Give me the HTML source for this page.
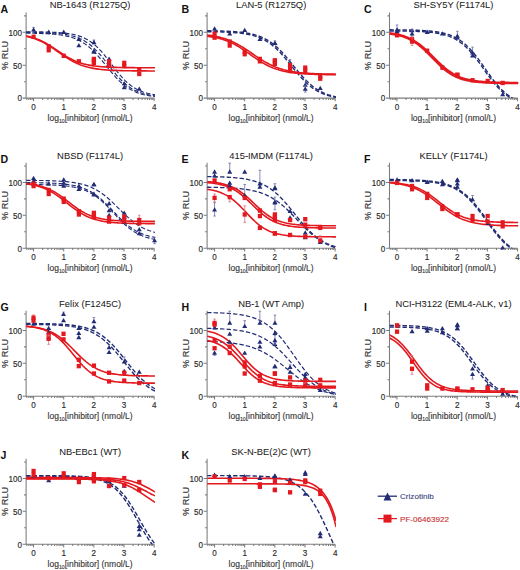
<!DOCTYPE html>
<html><head><meta charset="utf-8"><style>
html,body{margin:0;padding:0;background:#fff;width:520px;height:570px;overflow:hidden}
svg{display:block}
text{font-family:"Liberation Sans", sans-serif}
.tk{font-size:8.1px;fill:#2a2a2a;stroke:#2a2a2a;stroke-width:0.15px}
.al{font-size:8.3px;fill:#333;stroke:#333;stroke-width:0.12px}
.ti{font-size:9.4px;fill:#222;stroke:#222;stroke-width:0.05px}
.lt{font-size:10.6px;font-weight:bold;fill:#111}
.lg{font-size:8.1px}
.bl{fill:none;stroke:#222c74;stroke-width:1.4;stroke-dasharray:4.4 2.1}
.rl{fill:none;stroke:#e3191f;stroke-width:1.6}
.be{fill:none;stroke:#6b70a6;stroke-width:0.8}
.re{fill:none;stroke:#e0707a;stroke-width:0.8}
</style></head><body>
<svg width="520" height="570" viewBox="0 0 520 570">
<path d="M26.1 12.56V98.1H154.15M26.1 98.1h-3.4M26.1 81.65h-2M26.1 65.2h-3.4M26.1 48.75h-2M26.1 32.3h-3.4M26.1 15.85h-2M33.55 98.1v3.2M63.7 98.1v3.2M93.85 98.1v3.2M124 98.1v3.2M154.15 98.1v3.2M26.86 98.1v1.8M28.88 98.1v1.8M30.63 98.1v1.8M32.17 98.1v1.8M42.63 98.1v1.8M47.94 98.1v1.8M51.7 98.1v1.8M54.62 98.1v1.8M57.01 98.1v1.8M59.03 98.1v1.8M60.78 98.1v1.8M62.32 98.1v1.8M72.78 98.1v1.8M78.09 98.1v1.8M81.85 98.1v1.8M84.77 98.1v1.8M87.16 98.1v1.8M89.18 98.1v1.8M90.93 98.1v1.8M92.47 98.1v1.8M102.93 98.1v1.8M108.24 98.1v1.8M112 98.1v1.8M114.92 98.1v1.8M117.31 98.1v1.8M119.33 98.1v1.8M121.08 98.1v1.8M122.62 98.1v1.8M133.08 98.1v1.8M138.39 98.1v1.8M142.15 98.1v1.8M145.07 98.1v1.8M147.46 98.1v1.8M149.48 98.1v1.8M151.23 98.1v1.8M152.77 98.1v1.8" stroke="#7c7c7c" stroke-width="1.05" fill="none"/>
<text transform="translate(21.9 101.4) scale(1 1.12)" text-anchor="end" class="tk">0</text>
<text transform="translate(21.9 68.5) scale(1 1.12)" text-anchor="end" class="tk">50</text>
<text transform="translate(21.9 35.6) scale(1 1.12)" text-anchor="end" class="tk">100</text>
<text transform="translate(33.55 110) scale(1 1.12)" text-anchor="middle" class="tk">0</text>
<text transform="translate(63.7 110) scale(1 1.12)" text-anchor="middle" class="tk">1</text>
<text transform="translate(93.85 110) scale(1 1.12)" text-anchor="middle" class="tk">2</text>
<text transform="translate(124 110) scale(1 1.12)" text-anchor="middle" class="tk">3</text>
<text transform="translate(154.15 110) scale(1 1.12)" text-anchor="middle" class="tk">4</text>
<text x="90.12" y="120.8" text-anchor="middle" class="al" style="font-size:8.5px">log<tspan font-size="5.2" dy="2.2">10</tspan><tspan dy="-2.2">[inhibitor] (nmol/L)</tspan></text>
<text transform="translate(7.5 55.33) scale(1 1.1) rotate(-90)" text-anchor="middle" class="al" style="font-size:8.4px">% RLU</text>
<text x="90.12" y="8.46" text-anchor="middle" class="ti">NB-1643 (R1275Q)</text>
<text x="0.5" y="13.16" class="lt">A</text>
<clipPath id="cA"><rect x="26.1" y="-7.44" width="128.85" height="105.54"/></clipPath>
<g clip-path="url(#cA)"><path d="M26.1 31.77 27.6 31.78 29.1 31.79 30.6 31.8 32.1 31.81 33.6 31.83 35.1 31.84 36.6 31.86 38.1 31.87 39.6 31.89 41.1 31.92 42.6 31.94 44.1 31.97 45.6 32.01 47.1 32.05 48.6 32.09 50.1 32.14 51.6 32.19 53.1 32.25 54.6 32.32 56.1 32.4 57.6 32.49 59.1 32.59 60.6 32.71 62.1 32.83 63.6 32.98 65.1 33.14 66.6 33.32 68.1 33.52 69.6 33.75 71.1 34.01 72.6 34.3 74.1 34.62 75.6 34.98 77.1 35.38 78.6 35.83 80.1 36.33 81.6 36.89 83.1 37.51 84.6 38.19 86.1 38.94 87.6 39.77 89.1 40.68 90.6 41.67 92.1 42.75 93.6 43.92 95.1 45.19 96.6 46.55 98.1 48 99.6 49.54 101.1 51.18 102.6 52.89 104.1 54.68 105.6 56.53 107.1 58.44 108.6 60.38 110.1 62.36 111.6 64.35 113.1 66.33 114.6 68.3 116.1 70.24 117.6 72.13 119.1 73.97 120.6 75.74 122.1 77.43 123.6 79.04 125.1 80.55 126.6 81.98 128.1 83.31 129.6 84.55 131.1 85.7 132.6 86.75 134.1 87.72 135.6 88.61 137.1 89.41 138.6 90.15 140.1 90.81 141.6 91.41 143.1 91.95 144.6 92.43 146.1 92.87 147.6 93.26 149.1 93.61 150.6 93.92 152.1 94.2 153.6 94.45 155.1 94.67" class="bl" style="stroke-width:1.15"/><path d="M26.1 32.41 27.6 32.42 29.1 32.44 30.6 32.45 32.1 32.47 33.6 32.49 35.1 32.52 36.6 32.54 38.1 32.57 39.6 32.6 41.1 32.64 42.6 32.68 44.1 32.72 45.6 32.77 47.1 32.83 48.6 32.9 50.1 32.97 51.6 33.05 53.1 33.14 54.6 33.25 56.1 33.36 57.6 33.49 59.1 33.63 60.6 33.8 62.1 33.98 63.6 34.18 65.1 34.41 66.6 34.66 68.1 34.94 69.6 35.26 71.1 35.61 72.6 36 74.1 36.43 75.6 36.91 77.1 37.44 78.6 38.03 80.1 38.67 81.6 39.38 83.1 40.16 84.6 41.02 86.1 41.95 87.6 42.96 89.1 44.05 90.6 45.23 92.1 46.5 93.6 47.85 95.1 49.29 96.6 50.82 98.1 52.42 99.6 54.1 101.1 55.84 102.6 57.64 104.1 59.49 105.6 61.38 107.1 63.29 108.6 65.22 110.1 67.14 111.6 69.04 113.1 70.92 114.6 72.75 116.1 74.54 117.6 76.26 119.1 77.91 120.6 79.49 122.1 80.98 123.6 82.39 125.1 83.72 126.6 84.96 128.1 86.11 129.6 87.17 131.1 88.15 132.6 89.06 134.1 89.88 135.6 90.64 137.1 91.33 138.6 91.95 140.1 92.52 141.6 93.03 143.1 93.5 144.6 93.91 146.1 94.29 147.6 94.63 149.1 94.93 150.6 95.2 152.1 95.45 153.6 95.67 155.1 95.86" class="bl" style="stroke-width:1.15"/><path d="M26.1 33.2 27.6 33.21 29.1 33.23 30.6 33.25 32.1 33.28 33.6 33.31 35.1 33.34 36.6 33.37 38.1 33.41 39.6 33.45 41.1 33.5 42.6 33.56 44.1 33.62 45.6 33.69 47.1 33.76 48.6 33.85 50.1 33.94 51.6 34.05 53.1 34.17 54.6 34.3 56.1 34.45 57.6 34.61 59.1 34.8 60.6 35.01 62.1 35.24 63.6 35.49 65.1 35.78 66.6 36.09 68.1 36.44 69.6 36.83 71.1 37.26 72.6 37.73 74.1 38.26 75.6 38.83 77.1 39.47 78.6 40.16 80.1 40.92 81.6 41.75 83.1 42.66 84.6 43.63 86.1 44.69 87.6 45.83 89.1 47.05 90.6 48.35 92.1 49.73 93.6 51.2 95.1 52.74 96.6 54.35 98.1 56.02 99.6 57.76 101.1 59.54 102.6 61.36 104.1 63.21 105.6 65.07 107.1 66.93 108.6 68.79 110.1 70.63 111.6 72.43 113.1 74.19 114.6 75.9 116.1 77.55 117.6 79.13 119.1 80.63 120.6 82.06 122.1 83.41 123.6 84.67 125.1 85.86 126.6 86.96 128.1 87.98 129.6 88.92 131.1 89.79 132.6 90.59 134.1 91.32 135.6 91.99 137.1 92.59 138.6 93.15 140.1 93.65 141.6 94.1 143.1 94.51 144.6 94.88 146.1 95.22 147.6 95.52 149.1 95.79 150.6 96.03 152.1 96.25 153.6 96.45 155.1 96.62" class="bl" style="stroke-width:1.15"/><path d="M26.1 35.94 27.6 36.25 29.1 36.6 30.6 36.98 32.1 37.4 33.6 37.85 35.1 38.35 36.6 38.89 38.1 39.47 39.6 40.1 41.1 40.77 42.6 41.49 44.1 42.26 45.6 43.07 47.1 43.92 48.6 44.82 50.1 45.74 51.6 46.7 53.1 47.68 54.6 48.68 56.1 49.7 57.6 50.71 59.1 51.73 60.6 52.74 62.1 53.73 63.6 54.7 65.1 55.65 66.6 56.56 68.1 57.43 69.6 58.26 71.1 59.05 72.6 59.8 74.1 60.5 75.6 61.15 77.1 61.76 78.6 62.32 80.1 62.84 81.6 63.32 83.1 63.75 84.6 64.15 86.1 64.51 87.6 64.84 89.1 65.14 90.6 65.41 92.1 65.66 93.6 65.88 95.1 66.08 96.6 66.26 98.1 66.42 99.6 66.56 101.1 66.69 102.6 66.8 104.1 66.91 105.6 67 107.1 67.08 108.6 67.15 110.1 67.22 111.6 67.28 113.1 67.33 114.6 67.38 116.1 67.42 117.6 67.45 119.1 67.49 120.6 67.52 122.1 67.54 123.6 67.57 125.1 67.59 126.6 67.6 128.1 67.62 129.6 67.64 131.1 67.65 132.6 67.66 134.1 67.67 135.6 67.68 137.1 67.69 138.6 67.69 140.1 67.7 141.6 67.71 143.1 67.71 144.6 67.72 146.1 67.72 147.6 67.72 149.1 67.73 150.6 67.73 152.1 67.73 153.6 67.73 155.1 67.74" class="rl"/><path d="M26.1 36.27 27.6 36.61 29.1 36.99 30.6 37.39 32.1 37.83 33.6 38.32 35.1 38.84 36.6 39.4 38.1 40.01 39.6 40.66 41.1 41.35 42.6 42.09 44.1 42.88 45.6 43.71 47.1 44.58 48.6 45.49 50.1 46.43 51.6 47.41 53.1 48.41 54.6 49.43 56.1 50.47 57.6 51.52 59.1 52.58 60.6 53.63 62.1 54.67 63.6 55.69 65.1 56.69 66.6 57.67 68.1 58.61 69.6 59.52 71.1 60.39 72.6 61.22 74.1 62 75.6 62.74 77.1 63.44 78.6 64.08 80.1 64.69 81.6 65.25 83.1 65.77 84.6 66.25 86.1 66.69 87.6 67.1 89.1 67.47 90.6 67.81 92.1 68.12 93.6 68.4 95.1 68.65 96.6 68.88 98.1 69.09 99.6 69.28 101.1 69.45 102.6 69.61 104.1 69.75 105.6 69.87 107.1 69.99 108.6 70.09 110.1 70.18 111.6 70.26 113.1 70.34 114.6 70.4 116.1 70.46 117.6 70.52 119.1 70.57 120.6 70.61 122.1 70.65 123.6 70.68 125.1 70.71 126.6 70.74 128.1 70.77 129.6 70.79 131.1 70.81 132.6 70.83 134.1 70.84 135.6 70.86 137.1 70.87 138.6 70.88 140.1 70.89 141.6 70.9 143.1 70.91 144.6 70.92 146.1 70.92 147.6 70.93 149.1 70.94 150.6 70.94 152.1 70.94 153.6 70.95 155.1 70.95" class="rl"/></g>
<path d="M33.57 27.37V33.68M32.27 27.37h2.6M32.27 33.68h2.6" class="be"/><path d="M31.07 31.54L33.57 27.24L36.07 31.54Z" fill="#222c74"/><path d="M46.22 33.91L48.72 29.61L51.22 33.91Z" fill="#222c74"/><path d="M61.22 33.91L63.72 29.61L66.22 33.91Z" fill="#222c74"/><path d="M76.38 41.01L78.88 36.71L81.38 41.01Z" fill="#222c74"/><path d="M76.38 47.33L78.88 43.03L81.38 47.33Z" fill="#222c74"/><path d="M91.38 52.85L93.88 48.55L96.38 52.85Z" fill="#222c74"/><path d="M93.93 40V43.95M92.63 40h2.6M92.63 43.95h2.6" class="be"/><path d="M91.43 44.17L93.93 39.87L96.43 44.17Z" fill="#222c74"/><path d="M91.43 53.64L93.93 49.34L96.43 53.64Z" fill="#222c74"/><path d="M106.59 60.75L109.09 56.45L111.59 60.75Z" fill="#222c74"/><path d="M106.59 66.27L109.09 61.97L111.59 66.27Z" fill="#222c74"/><path d="M121.75 85.22L124.25 80.92L126.75 85.22Z" fill="#222c74"/><path d="M121.75 89.17L124.25 84.87L126.75 89.17Z" fill="#222c74"/><path d="M136.75 90.75L139.25 86.45L141.75 90.75Z" fill="#222c74"/><rect x="31.47" y="34.64" width="4.2" height="4.4" fill="#e3191f"/><rect x="46.62" y="44.12" width="4.2" height="4.4" fill="#e3191f"/><rect x="46.62" y="48.06" width="4.2" height="4.4" fill="#e3191f"/><rect x="61.62" y="53.59" width="4.2" height="4.4" fill="#e3191f"/><rect x="76.78" y="59.12" width="4.2" height="4.4" fill="#e3191f"/><rect x="91.78" y="57.54" width="4.2" height="4.4" fill="#e3191f"/><rect x="91.78" y="60.69" width="4.2" height="4.4" fill="#e3191f"/><rect x="91.83" y="56.75" width="4.2" height="4.4" fill="#e3191f"/><rect x="91.83" y="59.91" width="4.2" height="4.4" fill="#e3191f"/><rect x="106.99" y="59.12" width="4.2" height="4.4" fill="#e3191f"/><rect x="106.99" y="63.06" width="4.2" height="4.4" fill="#e3191f"/><rect x="122.15" y="60.69" width="4.2" height="4.4" fill="#e3191f"/><rect x="122.15" y="63.85" width="4.2" height="4.4" fill="#e3191f"/><rect x="137.15" y="67.01" width="4.2" height="4.4" fill="#e3191f"/><rect x="137.15" y="71.75" width="4.2" height="4.4" fill="#e3191f"/>
<path d="M207.1 12.56V98.1H335.15M207.1 98.1h-3.4M207.1 81.65h-2M207.1 65.2h-3.4M207.1 48.75h-2M207.1 32.3h-3.4M207.1 15.85h-2M214.55 98.1v3.2M244.7 98.1v3.2M274.85 98.1v3.2M305 98.1v3.2M335.15 98.1v3.2M207.86 98.1v1.8M209.88 98.1v1.8M211.63 98.1v1.8M213.17 98.1v1.8M223.63 98.1v1.8M228.94 98.1v1.8M232.7 98.1v1.8M235.62 98.1v1.8M238.01 98.1v1.8M240.03 98.1v1.8M241.78 98.1v1.8M243.32 98.1v1.8M253.78 98.1v1.8M259.09 98.1v1.8M262.85 98.1v1.8M265.77 98.1v1.8M268.16 98.1v1.8M270.18 98.1v1.8M271.93 98.1v1.8M273.47 98.1v1.8M283.93 98.1v1.8M289.24 98.1v1.8M293 98.1v1.8M295.92 98.1v1.8M298.31 98.1v1.8M300.33 98.1v1.8M302.08 98.1v1.8M303.62 98.1v1.8M314.08 98.1v1.8M319.39 98.1v1.8M323.15 98.1v1.8M326.07 98.1v1.8M328.46 98.1v1.8M330.48 98.1v1.8M332.23 98.1v1.8M333.77 98.1v1.8" stroke="#7c7c7c" stroke-width="1.05" fill="none"/>
<text transform="translate(202.9 101.4) scale(1 1.12)" text-anchor="end" class="tk">0</text>
<text transform="translate(202.9 68.5) scale(1 1.12)" text-anchor="end" class="tk">50</text>
<text transform="translate(202.9 35.6) scale(1 1.12)" text-anchor="end" class="tk">100</text>
<text transform="translate(214.55 110) scale(1 1.12)" text-anchor="middle" class="tk">0</text>
<text transform="translate(244.7 110) scale(1 1.12)" text-anchor="middle" class="tk">1</text>
<text transform="translate(274.85 110) scale(1 1.12)" text-anchor="middle" class="tk">2</text>
<text transform="translate(305 110) scale(1 1.12)" text-anchor="middle" class="tk">3</text>
<text transform="translate(335.15 110) scale(1 1.12)" text-anchor="middle" class="tk">4</text>
<text x="271.12" y="120.8" text-anchor="middle" class="al" style="font-size:8.5px">log<tspan font-size="5.2" dy="2.2">10</tspan><tspan dy="-2.2">[inhibitor] (nmol/L)</tspan></text>
<text transform="translate(188.5 55.33) scale(1 1.1) rotate(-90)" text-anchor="middle" class="al" style="font-size:8.4px">% RLU</text>
<text x="271.12" y="8.46" text-anchor="middle" class="ti">LAN-5 (R1275Q)</text>
<text x="181.5" y="13.16" class="lt">B</text>
<clipPath id="cB"><rect x="207.1" y="-7.44" width="128.85" height="105.54"/></clipPath>
<g clip-path="url(#cB)"><path d="M207.1 30.75 208.6 30.77 210.1 30.79 211.6 30.81 213.1 30.83 214.6 30.86 216.1 30.89 217.6 30.92 219.1 30.95 220.6 30.99 222.1 31.03 223.6 31.08 225.1 31.13 226.6 31.19 228.1 31.26 229.6 31.33 231.1 31.41 232.6 31.5 234.1 31.61 235.6 31.72 237.1 31.84 238.6 31.98 240.1 32.13 241.6 32.3 243.1 32.48 244.6 32.69 246.1 32.92 247.6 33.17 249.1 33.45 250.6 33.76 252.1 34.1 253.6 34.48 255.1 34.89 256.6 35.34 258.1 35.84 259.6 36.38 261.1 36.98 262.6 37.63 264.1 38.34 265.6 39.11 267.1 39.95 268.6 40.85 270.1 41.83 271.6 42.87 273.1 44 274.6 45.2 276.1 46.48 277.6 47.83 279.1 49.26 280.6 50.77 282.1 52.34 283.6 53.97 285.1 55.67 286.6 57.41 288.1 59.2 289.6 61.02 291.1 62.87 292.6 64.73 294.1 66.59 295.6 68.44 297.1 70.28 298.6 72.08 300.1 73.85 301.6 75.57 303.1 77.24 304.6 78.84 306.1 80.38 307.6 81.85 309.1 83.25 310.6 84.56 312.1 85.8 313.6 86.97 315.1 88.05 316.6 89.07 318.1 90.01 319.6 90.88 321.1 91.68 322.6 92.42 324.1 93.1 325.6 93.73 327.1 94.3 328.6 94.82 330.1 95.29 331.6 95.73 333.1 96.12 334.6 96.48 336.1 96.8" class="bl"/><path d="M207.1 31.66 208.6 31.68 210.1 31.7 211.6 31.72 213.1 31.74 214.6 31.77 216.1 31.8 217.6 31.83 219.1 31.87 220.6 31.91 222.1 31.95 223.6 32.01 225.1 32.06 226.6 32.12 228.1 32.19 229.6 32.27 231.1 32.36 232.6 32.45 234.1 32.56 235.6 32.68 237.1 32.81 238.6 32.96 240.1 33.12 241.6 33.3 243.1 33.5 244.6 33.72 246.1 33.96 247.6 34.24 249.1 34.54 250.6 34.87 252.1 35.23 253.6 35.64 255.1 36.08 256.6 36.57 258.1 37.11 259.6 37.7 261.1 38.34 262.6 39.04 264.1 39.8 265.6 40.63 267.1 41.53 268.6 42.5 270.1 43.55 271.6 44.67 273.1 45.87 274.6 47.15 276.1 48.51 277.6 49.94 279.1 51.45 280.6 53.03 282.1 54.67 283.6 56.38 285.1 58.13 286.6 59.93 288.1 61.76 289.6 63.61 291.1 65.48 292.6 67.35 294.1 69.21 295.6 71.04 297.1 72.85 298.6 74.61 300.1 76.33 301.6 77.99 303.1 79.58 304.6 81.11 306.1 82.56 307.6 83.94 309.1 85.24 310.6 86.46 312.1 87.6 313.6 88.66 315.1 89.65 316.6 90.57 318.1 91.42 319.6 92.19 321.1 92.91 322.6 93.57 324.1 94.17 325.6 94.72 327.1 95.22 328.6 95.67 330.1 96.09 331.6 96.46 333.1 96.8 334.6 97.11 336.1 97.39" class="bl"/><path d="M207.1 34.98 208.6 35.17 210.1 35.38 211.6 35.62 213.1 35.87 214.6 36.15 216.1 36.45 217.6 36.77 219.1 37.13 220.6 37.51 222.1 37.92 223.6 38.37 225.1 38.85 226.6 39.37 228.1 39.92 229.6 40.51 231.1 41.14 232.6 41.81 234.1 42.51 235.6 43.26 237.1 44.05 238.6 44.87 240.1 45.72 241.6 46.61 243.1 47.54 244.6 48.48 246.1 49.46 247.6 50.45 249.1 51.46 250.6 52.48 252.1 53.5 253.6 54.53 255.1 55.55 256.6 56.56 258.1 57.56 259.6 58.54 261.1 59.5 262.6 60.43 264.1 61.33 265.6 62.2 267.1 63.03 268.6 63.83 270.1 64.59 271.6 65.31 273.1 65.99 274.6 66.63 276.1 67.24 277.6 67.8 279.1 68.33 280.6 68.82 282.1 69.28 283.6 69.71 285.1 70.1 286.6 70.46 288.1 70.8 289.6 71.11 291.1 71.39 292.6 71.65 294.1 71.89 295.6 72.11 297.1 72.31 298.6 72.5 300.1 72.67 301.6 72.82 303.1 72.96 304.6 73.09 306.1 73.2 307.6 73.31 309.1 73.4 310.6 73.49 312.1 73.57 313.6 73.64 315.1 73.71 316.6 73.77 318.1 73.82 319.6 73.87 321.1 73.92 322.6 73.96 324.1 73.99 325.6 74.03 327.1 74.06 328.6 74.08 330.1 74.11 331.6 74.13 333.1 74.15 334.6 74.17 336.1 74.19" class="rl"/><path d="M207.1 36.19 208.6 36.38 210.1 36.6 211.6 36.84 213.1 37.09 214.6 37.38 216.1 37.69 217.6 38.03 219.1 38.4 220.6 38.8 222.1 39.24 223.6 39.71 225.1 40.22 226.6 40.77 228.1 41.36 229.6 41.99 231.1 42.66 232.6 43.38 234.1 44.14 235.6 44.95 237.1 45.79 238.6 46.67 240.1 47.59 241.6 48.55 243.1 49.53 244.6 50.54 246.1 51.57 247.6 52.62 249.1 53.68 250.6 54.74 252.1 55.81 253.6 56.86 255.1 57.9 256.6 58.93 258.1 59.93 259.6 60.91 261.1 61.85 262.6 62.76 264.1 63.63 265.6 64.46 267.1 65.24 268.6 65.99 270.1 66.69 271.6 67.35 273.1 67.97 274.6 68.54 276.1 69.08 277.6 69.58 279.1 70.04 280.6 70.46 282.1 70.85 283.6 71.21 285.1 71.54 286.6 71.84 288.1 72.11 289.6 72.36 291.1 72.59 292.6 72.8 294.1 72.99 295.6 73.16 297.1 73.32 298.6 73.46 300.1 73.59 301.6 73.7 303.1 73.81 304.6 73.91 306.1 73.99 307.6 74.07 309.1 74.14 310.6 74.2 312.1 74.26 313.6 74.31 315.1 74.36 316.6 74.4 318.1 74.44 319.6 74.47 321.1 74.51 322.6 74.53 324.1 74.56 325.6 74.58 327.1 74.6 328.6 74.62 330.1 74.64 331.6 74.65 333.1 74.67 334.6 74.68 336.1 74.69" class="rl"/></g>
<path d="M212.07 30.43L214.57 26.13L217.07 30.43Z" fill="#222c74"/><path d="M227.22 35.48L229.72 31.18L232.22 35.48Z" fill="#222c74"/><path d="M242.22 32.01L244.72 27.71L247.22 32.01Z" fill="#222c74"/><path d="M257.38 41.01L259.88 36.71L262.38 41.01Z" fill="#222c74"/><path d="M272.38 44.96L274.88 40.66L277.38 44.96Z" fill="#222c74"/><path d="M274.93 40.79V43.95M273.63 40.79h2.6M273.63 43.95h2.6" class="be"/><path d="M272.43 44.96L274.93 40.66L277.43 44.96Z" fill="#222c74"/><path d="M290.09 59.74V65.26M288.79 59.74h2.6M288.79 65.26h2.6" class="be"/><path d="M287.59 66.27L290.09 61.97L292.59 66.27Z" fill="#222c74"/><path d="M302.75 86.8L305.25 82.5L307.75 86.8Z" fill="#222c74"/><path d="M305.25 85.79V92.11M303.95 85.79h2.6M303.95 92.11h2.6" class="be"/><path d="M302.75 90.75L305.25 86.45L307.75 90.75Z" fill="#222c74"/><path d="M317.75 89.96L320.25 85.66L322.75 89.96Z" fill="#222c74"/><rect x="212.47" y="31.48" width="4.2" height="4.4" fill="#e3191f"/><rect x="212.47" y="35.43" width="4.2" height="4.4" fill="#e3191f"/><rect x="227.62" y="39.38" width="4.2" height="4.4" fill="#e3191f"/><rect x="227.62" y="43.33" width="4.2" height="4.4" fill="#e3191f"/><rect x="242.62" y="49.64" width="4.2" height="4.4" fill="#e3191f"/><rect x="242.62" y="52.01" width="4.2" height="4.4" fill="#e3191f"/><rect x="257.78" y="56.75" width="4.2" height="4.4" fill="#e3191f"/><rect x="257.78" y="59.12" width="4.2" height="4.4" fill="#e3191f"/><rect x="272.78" y="58.33" width="4.2" height="4.4" fill="#e3191f"/><rect x="272.78" y="61.48" width="4.2" height="4.4" fill="#e3191f"/><rect x="272.83" y="58.33" width="4.2" height="4.4" fill="#e3191f"/><rect x="272.83" y="61.48" width="4.2" height="4.4" fill="#e3191f"/><rect x="287.99" y="63.06" width="4.2" height="4.4" fill="#e3191f"/><rect x="287.99" y="67.01" width="4.2" height="4.4" fill="#e3191f"/><rect x="303.15" y="65.43" width="4.2" height="4.4" fill="#e3191f"/><rect x="303.15" y="68.59" width="4.2" height="4.4" fill="#e3191f"/><rect x="318.15" y="74.12" width="4.2" height="4.4" fill="#e3191f"/><rect x="318.15" y="76.48" width="4.2" height="4.4" fill="#e3191f"/>
<path d="M389.5 12.56V98.1H517.55M389.5 98.1h-3.4M389.5 81.65h-2M389.5 65.2h-3.4M389.5 48.75h-2M389.5 32.3h-3.4M389.5 15.85h-2M396.95 98.1v3.2M427.1 98.1v3.2M457.25 98.1v3.2M487.4 98.1v3.2M517.55 98.1v3.2M390.26 98.1v1.8M392.28 98.1v1.8M394.03 98.1v1.8M395.57 98.1v1.8M406.03 98.1v1.8M411.34 98.1v1.8M415.1 98.1v1.8M418.02 98.1v1.8M420.41 98.1v1.8M422.43 98.1v1.8M424.18 98.1v1.8M425.72 98.1v1.8M436.18 98.1v1.8M441.49 98.1v1.8M445.25 98.1v1.8M448.17 98.1v1.8M450.56 98.1v1.8M452.58 98.1v1.8M454.33 98.1v1.8M455.87 98.1v1.8M466.33 98.1v1.8M471.64 98.1v1.8M475.4 98.1v1.8M478.32 98.1v1.8M480.71 98.1v1.8M482.73 98.1v1.8M484.48 98.1v1.8M486.02 98.1v1.8M496.48 98.1v1.8M501.79 98.1v1.8M505.55 98.1v1.8M508.47 98.1v1.8M510.86 98.1v1.8M512.88 98.1v1.8M514.63 98.1v1.8M516.17 98.1v1.8" stroke="#7c7c7c" stroke-width="1.05" fill="none"/>
<text transform="translate(385.3 101.4) scale(1 1.12)" text-anchor="end" class="tk">0</text>
<text transform="translate(385.3 68.5) scale(1 1.12)" text-anchor="end" class="tk">50</text>
<text transform="translate(385.3 35.6) scale(1 1.12)" text-anchor="end" class="tk">100</text>
<text transform="translate(396.95 110) scale(1 1.12)" text-anchor="middle" class="tk">0</text>
<text transform="translate(427.1 110) scale(1 1.12)" text-anchor="middle" class="tk">1</text>
<text transform="translate(457.25 110) scale(1 1.12)" text-anchor="middle" class="tk">2</text>
<text transform="translate(487.4 110) scale(1 1.12)" text-anchor="middle" class="tk">3</text>
<text transform="translate(517.55 110) scale(1 1.12)" text-anchor="middle" class="tk">4</text>
<text x="453.52" y="120.8" text-anchor="middle" class="al" style="font-size:8.5px">log<tspan font-size="5.2" dy="2.2">10</tspan><tspan dy="-2.2">[inhibitor] (nmol/L)</tspan></text>
<text transform="translate(370.9 55.33) scale(1 1.1) rotate(-90)" text-anchor="middle" class="al" style="font-size:8.4px">% RLU</text>
<text x="453.52" y="8.46" text-anchor="middle" class="ti">SH-SY5Y (F1174L)</text>
<text x="363.9" y="13.16" class="lt">C</text>
<clipPath id="cC"><rect x="389.5" y="-7.44" width="128.85" height="105.54"/></clipPath>
<g clip-path="url(#cC)"><path d="M389.5 29.82 391 29.82 392.5 29.83 394 29.84 395.5 29.85 397 29.86 398.5 29.88 400 29.89 401.5 29.91 403 29.93 404.5 29.95 406 29.97 407.5 30 409 30.03 410.5 30.06 412 30.1 413.5 30.14 415 30.18 416.5 30.23 418 30.29 419.5 30.35 421 30.42 422.5 30.5 424 30.58 425.5 30.68 427 30.79 428.5 30.91 430 31.04 431.5 31.19 433 31.36 434.5 31.54 436 31.75 437.5 31.98 439 32.23 440.5 32.51 442 32.82 443.5 33.17 445 33.55 446.5 33.97 448 34.44 449.5 34.95 451 35.52 452.5 36.14 454 36.82 455.5 37.57 457 38.39 458.5 39.28 460 40.25 461.5 41.3 463 42.44 464.5 43.66 466 44.97 467.5 46.38 469 47.88 470.5 49.46 472 51.14 473.5 52.9 475 54.74 476.5 56.66 478 58.64 479.5 60.68 481 62.76 482.5 64.88 484 67.01 485.5 69.16 487 71.3 488.5 73.42 490 75.52 491.5 77.56 493 79.56 494.5 81.49 496 83.35 497.5 85.13 499 86.83 500.5 88.44 502 89.96 503.5 91.38 505 92.72 506.5 93.96 508 95.12 509.5 96.19 511 97.18 512.5 98.09 514 98.92 515.5 99.69 517 100.38 518.5 101.02" class="bl"/><path d="M389.5 30.94 391 30.94 392.5 30.95 394 30.96 395.5 30.97 397 30.99 398.5 31 400 31.02 401.5 31.04 403 31.06 404.5 31.08 406 31.1 407.5 31.13 409 31.16 410.5 31.2 412 31.23 413.5 31.28 415 31.32 416.5 31.38 418 31.44 419.5 31.51 421 31.58 422.5 31.66 424 31.76 425.5 31.86 427 31.98 428.5 32.11 430 32.25 431.5 32.41 433 32.59 434.5 32.79 436 33.01 437.5 33.25 439 33.52 440.5 33.83 442 34.16 443.5 34.53 445 34.94 446.5 35.39 448 35.89 449.5 36.44 451 37.05 452.5 37.71 454 38.44 455.5 39.24 457 40.11 458.5 41.05 460 42.08 461.5 43.19 463 44.38 464.5 45.67 466 47.05 467.5 48.52 469 50.08 470.5 51.72 472 53.46 473.5 55.27 475 57.15 476.5 59.11 478 61.12 479.5 63.17 481 65.26 482.5 67.38 484 69.5 485.5 71.62 487 73.72 488.5 75.79 490 77.82 491.5 79.79 493 81.71 494.5 83.55 496 85.32 497.5 87 499 88.6 500.5 90.1 502 91.52 503.5 92.84 505 94.08 506.5 95.22 508 96.28 509.5 97.26 511 98.16 512.5 98.99 514 99.74 515.5 100.43 517 101.06 518.5 101.64" class="bl"/><path d="M389.5 33.05 391 33.24 392.5 33.46 394 33.7 395.5 33.97 397 34.26 398.5 34.59 400 34.96 401.5 35.36 403 35.81 404.5 36.3 406 36.85 407.5 37.44 409 38.09 410.5 38.8 412 39.57 413.5 40.41 415 41.31 416.5 42.28 418 43.31 419.5 44.42 421 45.59 422.5 46.82 424 48.12 425.5 49.46 427 50.86 428.5 52.29 430 53.76 431.5 55.25 433 56.75 434.5 58.25 436 59.75 437.5 61.23 439 62.68 440.5 64.09 442 65.46 443.5 66.78 445 68.04 446.5 69.24 448 70.38 449.5 71.45 451 72.45 452.5 73.38 454 74.25 455.5 75.05 457 75.79 458.5 76.46 460 77.08 461.5 77.65 463 78.16 464.5 78.63 466 79.06 467.5 79.44 469 79.79 470.5 80.1 472 80.38 473.5 80.63 475 80.86 476.5 81.06 478 81.24 479.5 81.41 481 81.55 482.5 81.68 484 81.8 485.5 81.91 487 82 488.5 82.08 490 82.16 491.5 82.22 493 82.28 494.5 82.33 496 82.38 497.5 82.42 499 82.46 500.5 82.49 502 82.52 503.5 82.55 505 82.57 506.5 82.59 508 82.61 509.5 82.63 511 82.64 512.5 82.65 514 82.67 515.5 82.68 517 82.69 518.5 82.69" class="rl" style="stroke-width:2.0"/><path d="M389.5 33.79 391 33.99 392.5 34.21 394 34.45 395.5 34.72 397 35.02 398.5 35.36 400 35.74 401.5 36.16 403 36.62 404.5 37.13 406 37.7 407.5 38.32 409 39 410.5 39.74 412 40.55 413.5 41.43 415 42.39 416.5 43.41 418 44.5 419.5 45.67 421 46.91 422.5 48.21 424 49.57 425.5 50.99 427 52.45 428.5 53.95 430 55.47 431.5 57.02 433 58.57 434.5 60.11 436 61.64 437.5 63.14 439 64.6 440.5 66.02 442 67.38 443.5 68.68 445 69.91 446.5 71.08 448 72.18 449.5 73.2 451 74.15 452.5 75.03 454 75.84 455.5 76.58 457 77.26 458.5 77.88 460 78.45 461.5 78.96 463 79.42 464.5 79.84 466 80.21 467.5 80.55 469 80.86 470.5 81.13 472 81.37 473.5 81.59 475 81.78 476.5 81.96 478 82.11 479.5 82.25 481 82.37 482.5 82.48 484 82.58 485.5 82.66 487 82.74 488.5 82.81 490 82.87 491.5 82.92 493 82.97 494.5 83.01 496 83.05 497.5 83.08 499 83.11 500.5 83.14 502 83.16 503.5 83.18 505 83.2 506.5 83.22 508 83.23 509.5 83.24 511 83.26 512.5 83.27 514 83.27 515.5 83.28 517 83.29 518.5 83.3" class="rl" style="stroke-width:2.0"/></g>
<path d="M397.04 25V30.53M395.74 25h2.6M395.74 30.53h2.6" class="be"/><path d="M394.54 31.54L397.04 27.24L399.54 31.54Z" fill="#222c74"/><path d="M394.54 33.12L397.04 28.82L399.54 33.12Z" fill="#222c74"/><path d="M409.54 32.33L412.04 28.03L414.54 32.33Z" fill="#222c74"/><path d="M412.04 29.74V36.05M410.74 29.74h2.6M410.74 36.05h2.6" class="be"/><path d="M409.54 35.48L412.04 31.18L414.54 35.48Z" fill="#222c74"/><path d="M424.7 33.91L427.2 29.61L429.7 33.91Z" fill="#222c74"/><path d="M439.86 35.48L442.36 31.18L444.86 35.48Z" fill="#222c74"/><path d="M454.86 39.43L457.36 35.13L459.86 39.43Z" fill="#222c74"/><path d="M457.36 31.32V37.63M456.06 31.32h2.6M456.06 37.63h2.6" class="be"/><path d="M454.86 37.85L457.36 33.55L459.86 37.85Z" fill="#222c74"/><path d="M472.51 47.11V53.42M471.21 47.11h2.6M471.21 53.42h2.6" class="be"/><path d="M470.01 54.43L472.51 50.13L475.01 54.43Z" fill="#222c74"/><path d="M470.01 57.59L472.51 53.29L475.01 57.59Z" fill="#222c74"/><path d="M500.17 96.27L502.67 91.97L505.17 96.27Z" fill="#222c74"/><rect x="394.94" y="33.06" width="4.2" height="4.4" fill="#e3191f"/><rect x="409.94" y="37.01" width="4.2" height="4.4" fill="#e3191f"/><path d="M412.04 36.84V45.53M410.74 36.84h2.6M410.74 45.53h2.6" class="re"/><rect x="409.94" y="39.38" width="4.2" height="4.4" fill="#e3191f"/><rect x="425.1" y="48.54" width="4.2" height="4.4" fill="#e3191f"/><rect x="440.26" y="65.43" width="4.2" height="4.4" fill="#e3191f"/><rect x="455.26" y="72.54" width="4.2" height="4.4" fill="#e3191f"/><rect x="455.26" y="72.85" width="4.2" height="4.4" fill="#e3191f"/><rect x="470.41" y="78.06" width="4.2" height="4.4" fill="#e3191f"/><rect x="485.57" y="78.85" width="4.2" height="4.4" fill="#e3191f"/><rect x="500.57" y="80.75" width="4.2" height="4.4" fill="#e3191f"/>
<path d="M26.1 162.66V248.2H154.15M26.1 248.2h-3.4M26.1 231.75h-2M26.1 215.3h-3.4M26.1 198.85h-2M26.1 182.4h-3.4M26.1 165.95h-2M33.55 248.2v3.2M63.7 248.2v3.2M93.85 248.2v3.2M124 248.2v3.2M154.15 248.2v3.2M26.86 248.2v1.8M28.88 248.2v1.8M30.63 248.2v1.8M32.17 248.2v1.8M42.63 248.2v1.8M47.94 248.2v1.8M51.7 248.2v1.8M54.62 248.2v1.8M57.01 248.2v1.8M59.03 248.2v1.8M60.78 248.2v1.8M62.32 248.2v1.8M72.78 248.2v1.8M78.09 248.2v1.8M81.85 248.2v1.8M84.77 248.2v1.8M87.16 248.2v1.8M89.18 248.2v1.8M90.93 248.2v1.8M92.47 248.2v1.8M102.93 248.2v1.8M108.24 248.2v1.8M112 248.2v1.8M114.92 248.2v1.8M117.31 248.2v1.8M119.33 248.2v1.8M121.08 248.2v1.8M122.62 248.2v1.8M133.08 248.2v1.8M138.39 248.2v1.8M142.15 248.2v1.8M145.07 248.2v1.8M147.46 248.2v1.8M149.48 248.2v1.8M151.23 248.2v1.8M152.77 248.2v1.8" stroke="#7c7c7c" stroke-width="1.05" fill="none"/>
<text transform="translate(21.9 251.5) scale(1 1.12)" text-anchor="end" class="tk">0</text>
<text transform="translate(21.9 218.6) scale(1 1.12)" text-anchor="end" class="tk">50</text>
<text transform="translate(21.9 185.7) scale(1 1.12)" text-anchor="end" class="tk">100</text>
<text transform="translate(33.55 260.1) scale(1 1.12)" text-anchor="middle" class="tk">0</text>
<text transform="translate(63.7 260.1) scale(1 1.12)" text-anchor="middle" class="tk">1</text>
<text transform="translate(93.85 260.1) scale(1 1.12)" text-anchor="middle" class="tk">2</text>
<text transform="translate(124 260.1) scale(1 1.12)" text-anchor="middle" class="tk">3</text>
<text transform="translate(154.15 260.1) scale(1 1.12)" text-anchor="middle" class="tk">4</text>
<text x="90.12" y="270.9" text-anchor="middle" class="al" style="font-size:8.5px">log<tspan font-size="5.2" dy="2.2">10</tspan><tspan dy="-2.2">[inhibitor] (nmol/L)</tspan></text>
<text transform="translate(7.5 205.43) scale(1 1.1) rotate(-90)" text-anchor="middle" class="al" style="font-size:8.4px">% RLU</text>
<text x="90.12" y="158.56" text-anchor="middle" class="ti">NBSD (F1174L)</text>
<text x="0.5" y="163.26" class="lt">D</text>
<clipPath id="cD"><rect x="26.1" y="142.66" width="128.85" height="105.54"/></clipPath>
<g clip-path="url(#cD)"><path d="M26.1 180.38 27.6 180.39 29.1 180.4 30.6 180.41 32.1 180.42 33.6 180.43 35.1 180.45 36.6 180.46 38.1 180.48 39.6 180.5 41.1 180.53 42.6 180.55 44.1 180.58 45.6 180.61 47.1 180.65 48.6 180.69 50.1 180.73 51.6 180.78 53.1 180.83 54.6 180.89 56.1 180.95 57.6 181.03 59.1 181.11 60.6 181.2 62.1 181.3 63.6 181.41 65.1 181.53 66.6 181.66 68.1 181.81 69.6 181.98 71.1 182.16 72.6 182.36 74.1 182.58 75.6 182.83 77.1 183.1 78.6 183.39 80.1 183.72 81.6 184.08 83.1 184.47 84.6 184.9 86.1 185.37 87.6 185.89 89.1 186.45 90.6 187.05 92.1 187.71 93.6 188.43 95.1 189.2 96.6 190.02 98.1 190.91 99.6 191.85 101.1 192.86 102.6 193.93 104.1 195.06 105.6 196.25 107.1 197.49 108.6 198.78 110.1 200.12 111.6 201.51 113.1 202.93 114.6 204.38 116.1 205.85 117.6 207.34 119.1 208.83 120.6 210.31 122.1 211.79 123.6 213.25 125.1 214.68 126.6 216.07 128.1 217.43 129.6 218.73 131.1 219.99 132.6 221.19 134.1 222.34 135.6 223.42 137.1 224.45 138.6 225.41 140.1 226.31 141.6 227.16 143.1 227.94 144.6 228.67 146.1 229.34 147.6 229.96 149.1 230.54 150.6 231.06 152.1 231.54 153.6 231.99 155.1 232.39" class="bl" style="stroke-width:1.15"/><path d="M26.1 182.63 27.6 182.65 29.1 182.66 30.6 182.67 32.1 182.69 33.6 182.7 35.1 182.72 36.6 182.74 38.1 182.76 39.6 182.79 41.1 182.82 42.6 182.85 44.1 182.89 45.6 182.93 47.1 182.97 48.6 183.02 50.1 183.08 51.6 183.14 53.1 183.21 54.6 183.29 56.1 183.37 57.6 183.47 59.1 183.57 60.6 183.69 62.1 183.83 63.6 183.97 65.1 184.13 66.6 184.32 68.1 184.52 69.6 184.74 71.1 184.99 72.6 185.26 74.1 185.56 75.6 185.89 77.1 186.26 78.6 186.66 80.1 187.11 81.6 187.6 83.1 188.13 84.6 188.72 86.1 189.36 87.6 190.05 89.1 190.8 90.6 191.62 92.1 192.5 93.6 193.45 95.1 194.46 96.6 195.54 98.1 196.69 99.6 197.9 101.1 199.18 102.6 200.52 104.1 201.92 105.6 203.36 107.1 204.85 108.6 206.38 110.1 207.94 111.6 209.52 113.1 211.1 114.6 212.69 116.1 214.27 117.6 215.83 119.1 217.36 120.6 218.86 122.1 220.31 123.6 221.71 125.1 223.06 126.6 224.34 128.1 225.56 129.6 226.72 131.1 227.81 132.6 228.83 134.1 229.78 135.6 230.67 137.1 231.49 138.6 232.25 140.1 232.95 141.6 233.6 143.1 234.19 144.6 234.73 146.1 235.22 147.6 235.67 149.1 236.08 150.6 236.45 152.1 236.79 153.6 237.09 155.1 237.37" class="bl" style="stroke-width:1.15"/><path d="M26.1 184.53 27.6 184.54 29.1 184.55 30.6 184.56 32.1 184.57 33.6 184.59 35.1 184.6 36.6 184.62 38.1 184.64 39.6 184.66 41.1 184.69 42.6 184.72 44.1 184.75 45.6 184.79 47.1 184.83 48.6 184.87 50.1 184.92 51.6 184.98 53.1 185.04 54.6 185.11 56.1 185.19 57.6 185.27 59.1 185.37 60.6 185.48 62.1 185.6 63.6 185.73 65.1 185.88 66.6 186.05 68.1 186.23 69.6 186.44 71.1 186.67 72.6 186.92 74.1 187.2 75.6 187.52 77.1 187.86 78.6 188.24 80.1 188.66 81.6 189.12 83.1 189.63 84.6 190.19 86.1 190.8 87.6 191.47 89.1 192.2 90.6 192.99 92.1 193.84 93.6 194.76 95.1 195.75 96.6 196.81 98.1 197.95 99.6 199.15 101.1 200.42 102.6 201.75 104.1 203.15 105.6 204.6 107.1 206.1 108.6 207.64 110.1 209.22 111.6 210.82 113.1 212.44 114.6 214.06 116.1 215.67 117.6 217.27 119.1 218.85 120.6 220.38 122.1 221.88 123.6 223.32 125.1 224.71 126.6 226.03 128.1 227.29 129.6 228.49 131.1 229.61 132.6 230.66 134.1 231.64 135.6 232.55 137.1 233.4 138.6 234.18 140.1 234.89 141.6 235.55 143.1 236.16 144.6 236.71 146.1 237.21 147.6 237.67 149.1 238.08 150.6 238.46 152.1 238.8 153.6 239.1 155.1 239.38" class="bl" style="stroke-width:1.15"/><path d="M26.1 183.42 27.6 183.59 29.1 183.77 30.6 183.97 32.1 184.2 33.6 184.45 35.1 184.73 36.6 185.04 38.1 185.39 39.6 185.77 41.1 186.18 42.6 186.64 44.1 187.14 45.6 187.69 47.1 188.28 48.6 188.92 50.1 189.62 51.6 190.37 53.1 191.17 54.6 192.02 56.1 192.93 57.6 193.88 59.1 194.89 60.6 195.93 62.1 197.01 63.6 198.12 65.1 199.25 66.6 200.41 68.1 201.57 69.6 202.73 71.1 203.89 72.6 205.03 74.1 206.15 75.6 207.24 77.1 208.29 78.6 209.31 80.1 210.28 81.6 211.2 83.1 212.07 84.6 212.89 86.1 213.66 87.6 214.37 89.1 215.03 90.6 215.64 92.1 216.2 93.6 216.72 95.1 217.19 96.6 217.62 98.1 218.01 99.6 218.36 101.1 218.68 102.6 218.97 104.1 219.23 105.6 219.47 107.1 219.68 108.6 219.87 110.1 220.04 111.6 220.19 113.1 220.33 114.6 220.45 116.1 220.56 117.6 220.66 119.1 220.75 120.6 220.83 122.1 220.89 123.6 220.96 125.1 221.01 126.6 221.06 128.1 221.1 129.6 221.14 131.1 221.18 132.6 221.21 134.1 221.24 135.6 221.26 137.1 221.28 138.6 221.3 140.1 221.32 141.6 221.33 143.1 221.35 144.6 221.36 146.1 221.37 147.6 221.38 149.1 221.39 150.6 221.4 152.1 221.4 153.6 221.41 155.1 221.41" class="rl"/><path d="M26.1 183.83 27.6 184.03 29.1 184.26 30.6 184.51 32.1 184.79 33.6 185.1 35.1 185.44 36.6 185.81 38.1 186.22 39.6 186.67 41.1 187.16 42.6 187.7 44.1 188.29 45.6 188.92 47.1 189.6 48.6 190.34 50.1 191.13 51.6 191.97 53.1 192.86 54.6 193.81 56.1 194.8 57.6 195.84 59.1 196.92 60.6 198.04 62.1 199.18 63.6 200.35 65.1 201.54 66.6 202.73 68.1 203.93 69.6 205.12 71.1 206.29 72.6 207.44 74.1 208.57 75.6 209.66 77.1 210.7 78.6 211.71 80.1 212.66 81.6 213.57 83.1 214.42 84.6 215.23 86.1 215.97 87.6 216.67 89.1 217.32 90.6 217.91 92.1 218.46 93.6 218.96 95.1 219.42 96.6 219.84 98.1 220.22 99.6 220.57 101.1 220.89 102.6 221.17 104.1 221.43 105.6 221.66 107.1 221.87 108.6 222.06 110.1 222.23 111.6 222.38 113.1 222.52 114.6 222.64 116.1 222.75 117.6 222.85 119.1 222.94 120.6 223.02 122.1 223.09 123.6 223.15 125.1 223.21 126.6 223.26 128.1 223.3 129.6 223.34 131.1 223.38 132.6 223.41 134.1 223.44 135.6 223.47 137.1 223.49 138.6 223.51 140.1 223.53 141.6 223.54 143.1 223.56 144.6 223.57 146.1 223.58 147.6 223.59 149.1 223.6 150.6 223.61 152.1 223.62 153.6 223.62 155.1 223.63" class="rl"/></g>
<path d="M31.07 179.96L33.57 175.66L36.07 179.96Z" fill="#222c74"/><path d="M31.07 183.12L33.57 178.82L36.07 183.12Z" fill="#222c74"/><path d="M46.22 185.48L48.72 181.18L51.22 185.48Z" fill="#222c74"/><path d="M61.22 181.54L63.72 177.24L66.22 181.54Z" fill="#222c74"/><path d="M61.22 184.69L63.72 180.39L66.22 184.69Z" fill="#222c74"/><path d="M61.22 187.85L63.72 183.55L66.22 187.85Z" fill="#222c74"/><path d="M76.38 187.85L78.88 183.55L81.38 187.85Z" fill="#222c74"/><path d="M76.38 191.01L78.88 186.71L81.38 191.01Z" fill="#222c74"/><path d="M91.38 186.27L93.88 181.97L96.38 186.27Z" fill="#222c74"/><path d="M91.38 196.54L93.88 192.24L96.38 196.54Z" fill="#222c74"/><path d="M91.43 186.27L93.93 181.97L96.43 186.27Z" fill="#222c74"/><path d="M91.43 195.75L93.93 191.45L96.43 195.75Z" fill="#222c74"/><path d="M106.59 205.22L109.09 200.92L111.59 205.22Z" fill="#222c74"/><path d="M106.59 212.33L109.09 208.03L111.59 212.33Z" fill="#222c74"/><path d="M106.59 217.06L109.09 212.76L111.59 217.06Z" fill="#222c74"/><path d="M121.75 214.69L124.25 210.39L126.75 214.69Z" fill="#222c74"/><path d="M121.75 218.64L124.25 214.34L126.75 218.64Z" fill="#222c74"/><path d="M121.75 223.38L124.25 219.08L126.75 223.38Z" fill="#222c74"/><path d="M136.75 231.27L139.25 226.97L141.75 231.27Z" fill="#222c74"/><path d="M136.75 235.22L139.25 230.92L141.75 235.22Z" fill="#222c74"/><path d="M154.57 237.37V243.68M153.27 237.37h2.6M153.27 243.68h2.6" class="be"/><path d="M152.07 242.33L154.57 238.03L157.07 242.33Z" fill="#222c74"/><rect x="31.47" y="181.48" width="4.2" height="4.4" fill="#e3191f"/><rect x="31.47" y="183.85" width="4.2" height="4.4" fill="#e3191f"/><rect x="46.62" y="187.8" width="4.2" height="4.4" fill="#e3191f"/><rect x="46.62" y="191.75" width="4.2" height="4.4" fill="#e3191f"/><rect x="61.62" y="196.48" width="4.2" height="4.4" fill="#e3191f"/><rect x="61.62" y="199.64" width="4.2" height="4.4" fill="#e3191f"/><rect x="76.78" y="209.12" width="4.2" height="4.4" fill="#e3191f"/><rect x="76.78" y="212.27" width="4.2" height="4.4" fill="#e3191f"/><rect x="91.78" y="211.48" width="4.2" height="4.4" fill="#e3191f"/><rect x="91.78" y="214.64" width="4.2" height="4.4" fill="#e3191f"/><rect x="91.83" y="210.69" width="4.2" height="4.4" fill="#e3191f"/><rect x="91.83" y="214.64" width="4.2" height="4.4" fill="#e3191f"/><rect x="106.99" y="215.43" width="4.2" height="4.4" fill="#e3191f"/><rect x="106.99" y="219.38" width="4.2" height="4.4" fill="#e3191f"/><rect x="122.15" y="214.64" width="4.2" height="4.4" fill="#e3191f"/><rect x="122.15" y="218.59" width="4.2" height="4.4" fill="#e3191f"/><path d="M139.25 215.26V223.16M137.95 215.26h2.6M137.95 223.16h2.6" class="re"/><rect x="137.15" y="217.8" width="4.2" height="4.4" fill="#e3191f"/><rect x="137.15" y="220.96" width="4.2" height="4.4" fill="#e3191f"/>
<path d="M207.1 162.66V248.2H335.15M207.1 248.2h-3.4M207.1 231.75h-2M207.1 215.3h-3.4M207.1 198.85h-2M207.1 182.4h-3.4M207.1 165.95h-2M214.55 248.2v3.2M244.7 248.2v3.2M274.85 248.2v3.2M305 248.2v3.2M335.15 248.2v3.2M207.86 248.2v1.8M209.88 248.2v1.8M211.63 248.2v1.8M213.17 248.2v1.8M223.63 248.2v1.8M228.94 248.2v1.8M232.7 248.2v1.8M235.62 248.2v1.8M238.01 248.2v1.8M240.03 248.2v1.8M241.78 248.2v1.8M243.32 248.2v1.8M253.78 248.2v1.8M259.09 248.2v1.8M262.85 248.2v1.8M265.77 248.2v1.8M268.16 248.2v1.8M270.18 248.2v1.8M271.93 248.2v1.8M273.47 248.2v1.8M283.93 248.2v1.8M289.24 248.2v1.8M293 248.2v1.8M295.92 248.2v1.8M298.31 248.2v1.8M300.33 248.2v1.8M302.08 248.2v1.8M303.62 248.2v1.8M314.08 248.2v1.8M319.39 248.2v1.8M323.15 248.2v1.8M326.07 248.2v1.8M328.46 248.2v1.8M330.48 248.2v1.8M332.23 248.2v1.8M333.77 248.2v1.8" stroke="#7c7c7c" stroke-width="1.05" fill="none"/>
<text transform="translate(202.9 251.5) scale(1 1.12)" text-anchor="end" class="tk">0</text>
<text transform="translate(202.9 218.6) scale(1 1.12)" text-anchor="end" class="tk">50</text>
<text transform="translate(202.9 185.7) scale(1 1.12)" text-anchor="end" class="tk">100</text>
<text transform="translate(214.55 260.1) scale(1 1.12)" text-anchor="middle" class="tk">0</text>
<text transform="translate(244.7 260.1) scale(1 1.12)" text-anchor="middle" class="tk">1</text>
<text transform="translate(274.85 260.1) scale(1 1.12)" text-anchor="middle" class="tk">2</text>
<text transform="translate(305 260.1) scale(1 1.12)" text-anchor="middle" class="tk">3</text>
<text transform="translate(335.15 260.1) scale(1 1.12)" text-anchor="middle" class="tk">4</text>
<text x="271.12" y="270.9" text-anchor="middle" class="al" style="font-size:8.5px">log<tspan font-size="5.2" dy="2.2">10</tspan><tspan dy="-2.2">[inhibitor] (nmol/L)</tspan></text>
<text transform="translate(188.5 205.43) scale(1 1.1) rotate(-90)" text-anchor="middle" class="al" style="font-size:8.4px">% RLU</text>
<text x="271.12" y="158.56" text-anchor="middle" class="ti">415-IMDM (F1174L)</text>
<text x="181.5" y="163.26" class="lt">E</text>
<clipPath id="cE"><rect x="207.1" y="142.66" width="128.85" height="105.54"/></clipPath>
<g clip-path="url(#cE)"><path d="M207.1 176.59 208.6 176.61 210.1 176.64 211.6 176.67 213.1 176.7 214.6 176.73 216.1 176.77 217.6 176.81 219.1 176.86 220.6 176.91 222.1 176.96 223.6 177.02 225.1 177.09 226.6 177.16 228.1 177.25 229.6 177.34 231.1 177.44 232.6 177.55 234.1 177.67 235.6 177.8 237.1 177.95 238.6 178.11 240.1 178.29 241.6 178.48 243.1 178.7 244.6 178.94 246.1 179.2 247.6 179.48 249.1 179.79 250.6 180.14 252.1 180.51 253.6 180.92 255.1 181.37 256.6 181.86 258.1 182.39 259.6 182.97 261.1 183.6 262.6 184.28 264.1 185.01 265.6 185.81 267.1 186.67 268.6 187.59 270.1 188.58 271.6 189.64 273.1 190.77 274.6 191.97 276.1 193.24 277.6 194.59 279.1 196 280.6 197.49 282.1 199.04 283.6 200.65 285.1 202.33 286.6 204.05 288.1 205.82 289.6 207.63 291.1 209.46 292.6 211.32 294.1 213.19 295.6 215.06 297.1 216.93 298.6 218.78 300.1 220.6 301.6 222.39 303.1 224.15 304.6 225.85 306.1 227.5 307.6 229.08 309.1 230.61 310.6 232.07 312.1 233.45 313.6 234.77 315.1 236.01 316.6 237.18 318.1 238.28 319.6 239.31 321.1 240.27 322.6 241.17 324.1 242 325.6 242.77 327.1 243.48 328.6 244.14 330.1 244.75 331.6 245.31 333.1 245.82 334.6 246.29 336.1 246.72" class="bl" style="stroke-width:1.3"/><path d="M207.1 187.25 208.6 187.27 210.1 187.3 211.6 187.32 213.1 187.35 214.6 187.38 216.1 187.41 217.6 187.45 219.1 187.49 220.6 187.53 222.1 187.58 223.6 187.63 225.1 187.69 226.6 187.76 228.1 187.83 229.6 187.91 231.1 187.99 232.6 188.08 234.1 188.19 235.6 188.3 237.1 188.42 238.6 188.56 240.1 188.71 241.6 188.87 243.1 189.05 244.6 189.24 246.1 189.45 247.6 189.68 249.1 189.94 250.6 190.21 252.1 190.52 253.6 190.84 255.1 191.2 256.6 191.59 258.1 192.01 259.6 192.47 261.1 192.96 262.6 193.5 264.1 194.08 265.6 194.7 267.1 195.38 268.6 196.1 270.1 196.87 271.6 197.7 273.1 198.58 274.6 199.52 276.1 200.52 277.6 201.57 279.1 202.69 280.6 203.86 282.1 205.09 283.6 206.37 285.1 207.7 286.6 209.08 288.1 210.51 289.6 211.98 291.1 213.48 292.6 215.01 294.1 216.56 295.6 218.13 297.1 219.71 298.6 221.29 300.1 222.87 301.6 224.43 303.1 225.97 304.6 227.49 306.1 228.97 307.6 230.42 309.1 231.82 310.6 233.18 312.1 234.49 313.6 235.74 315.1 236.94 316.6 238.08 318.1 239.17 319.6 240.19 321.1 241.16 322.6 242.07 324.1 242.93 325.6 243.73 327.1 244.47 328.6 245.17 330.1 245.82 331.6 246.42 333.1 246.97 334.6 247.49 336.1 247.96" class="bl" style="stroke-width:1.3"/><path d="M207.1 181.69 208.6 181.8 210.1 181.92 211.6 182.06 213.1 182.22 214.6 182.4 216.1 182.6 217.6 182.83 219.1 183.08 220.6 183.37 222.1 183.69 223.6 184.05 225.1 184.44 226.6 184.89 228.1 185.38 229.6 185.92 231.1 186.52 232.6 187.19 234.1 187.91 235.6 188.7 237.1 189.56 238.6 190.49 240.1 191.48 241.6 192.55 243.1 193.69 244.6 194.88 246.1 196.14 247.6 197.45 249.1 198.8 250.6 200.19 252.1 201.6 253.6 203.03 255.1 204.46 256.6 205.88 258.1 207.28 259.6 208.65 261.1 209.98 262.6 211.26 264.1 212.48 265.6 213.64 267.1 214.74 268.6 215.77 270.1 216.73 271.6 217.61 273.1 218.43 274.6 219.19 276.1 219.87 277.6 220.5 279.1 221.07 280.6 221.58 282.1 222.05 283.6 222.46 285.1 222.84 286.6 223.17 288.1 223.47 289.6 223.74 291.1 223.98 292.6 224.19 294.1 224.38 295.6 224.55 297.1 224.7 298.6 224.83 300.1 224.94 301.6 225.05 303.1 225.14 304.6 225.22 306.1 225.29 307.6 225.35 309.1 225.41 310.6 225.46 312.1 225.5 313.6 225.54 315.1 225.57 316.6 225.6 318.1 225.63 319.6 225.65 321.1 225.67 322.6 225.69 324.1 225.71 325.6 225.72 327.1 225.73 328.6 225.74 330.1 225.75 331.6 225.76 333.1 225.77 334.6 225.77 336.1 225.78" class="rl"/><path d="M207.1 182.62 208.6 182.75 210.1 182.9 211.6 183.07 213.1 183.25 214.6 183.46 216.1 183.7 217.6 183.97 219.1 184.27 220.6 184.6 222.1 184.97 223.6 185.39 225.1 185.85 226.6 186.36 228.1 186.92 229.6 187.54 231.1 188.23 232.6 188.97 234.1 189.79 235.6 190.67 237.1 191.63 238.6 192.65 240.1 193.75 241.6 194.91 243.1 196.14 244.6 197.43 246.1 198.77 247.6 200.15 249.1 201.57 250.6 203.02 252.1 204.48 253.6 205.94 255.1 207.4 256.6 208.83 258.1 210.23 259.6 211.6 261.1 212.91 262.6 214.17 264.1 215.36 265.6 216.49 267.1 217.55 268.6 218.54 270.1 219.46 271.6 220.31 273.1 221.09 274.6 221.8 276.1 222.45 277.6 223.05 279.1 223.58 280.6 224.07 282.1 224.5 283.6 224.89 285.1 225.25 286.6 225.56 288.1 225.84 289.6 226.09 291.1 226.32 292.6 226.51 294.1 226.69 295.6 226.85 297.1 226.99 298.6 227.11 300.1 227.22 301.6 227.32 303.1 227.4 304.6 227.48 306.1 227.55 307.6 227.61 309.1 227.66 310.6 227.7 312.1 227.75 313.6 227.78 315.1 227.81 316.6 227.84 318.1 227.87 319.6 227.89 321.1 227.91 322.6 227.93 324.1 227.94 325.6 227.95 327.1 227.97 328.6 227.98 330.1 227.98 331.6 227.99 333.1 228 334.6 228.01 336.1 228.01" class="rl"/><path d="M207.1 189.26 208.6 189.48 210.1 189.73 211.6 190.01 213.1 190.33 214.6 190.68 216.1 191.08 217.6 191.52 219.1 192.02 220.6 192.57 222.1 193.18 223.6 193.86 225.1 194.6 226.6 195.41 228.1 196.3 229.6 197.27 231.1 198.32 232.6 199.44 234.1 200.65 235.6 201.93 237.1 203.28 238.6 204.69 240.1 206.17 241.6 207.69 243.1 209.24 244.6 210.82 246.1 212.42 247.6 214.01 249.1 215.58 250.6 217.13 252.1 218.64 253.6 220.1 255.1 221.5 256.6 222.83 258.1 224.1 259.6 225.28 261.1 226.39 262.6 227.41 264.1 228.36 265.6 229.23 267.1 230.03 268.6 230.76 270.1 231.42 271.6 232.01 273.1 232.55 274.6 233.03 276.1 233.46 277.6 233.85 279.1 234.19 280.6 234.5 282.1 234.78 283.6 235.02 285.1 235.23 286.6 235.43 288.1 235.59 289.6 235.74 291.1 235.88 292.6 235.99 294.1 236.1 295.6 236.19 297.1 236.27 298.6 236.34 300.1 236.4 301.6 236.45 303.1 236.5 304.6 236.55 306.1 236.58 307.6 236.62 309.1 236.64 310.6 236.67 312.1 236.69 313.6 236.71 315.1 236.73 316.6 236.74 318.1 236.76 319.6 236.77 321.1 236.78 322.6 236.79 324.1 236.8 325.6 236.8 327.1 236.81 328.6 236.82 330.1 236.82 331.6 236.82 333.1 236.83 334.6 236.83 336.1 236.83" class="rl"/></g>
<path d="M212.07 173.64L214.57 169.34L217.07 173.64Z" fill="#222c74"/><path d="M212.07 177.59L214.57 173.29L217.07 177.59Z" fill="#222c74"/><path d="M214.57 202.63V216.05M213.27 202.63h2.6M213.27 216.05h2.6" class="be"/><path d="M212.07 211.54L214.57 207.24L217.07 211.54Z" fill="#222c74"/><path d="M229.72 163.16V172.63M228.42 163.16h2.6M228.42 172.63h2.6" class="be"/><path d="M227.22 173.64L229.72 169.34L232.22 173.64Z" fill="#222c74"/><path d="M227.22 184.69L229.72 180.39L232.22 184.69Z" fill="#222c74"/><path d="M227.22 187.85L229.72 183.55L232.22 187.85Z" fill="#222c74"/><path d="M242.22 173.64L244.72 169.34L247.22 173.64Z" fill="#222c74"/><path d="M244.72 184.47V196.32M243.42 184.47h2.6M243.42 196.32h2.6" class="be"/><path d="M242.22 197.33L244.72 193.03L247.22 197.33Z" fill="#222c74"/><path d="M259.88 170.26V184.47M258.58 170.26h2.6M258.58 184.47h2.6" class="be"/><path d="M257.38 185.48L259.88 181.18L262.38 185.48Z" fill="#222c74"/><path d="M257.38 188.64L259.88 184.34L262.38 188.64Z" fill="#222c74"/><path d="M272.38 190.22L274.88 185.92L277.38 190.22Z" fill="#222c74"/><path d="M272.38 203.64L274.88 199.34L277.38 203.64Z" fill="#222c74"/><path d="M274.93 183.68V188.42M273.63 183.68h2.6M273.63 188.42h2.6" class="be"/><path d="M272.43 189.43L274.93 185.13L277.43 189.43Z" fill="#222c74"/><path d="M274.93 197.11V209.74M273.63 197.11h2.6M273.63 209.74h2.6" class="be"/><path d="M272.43 204.43L274.93 200.13L277.43 204.43Z" fill="#222c74"/><path d="M287.59 213.12L290.09 208.82L292.59 213.12Z" fill="#222c74"/><path d="M287.59 219.43L290.09 215.13L292.59 219.43Z" fill="#222c74"/><path d="M302.75 234.43L305.25 230.13L307.75 234.43Z" fill="#222c74"/><path d="M302.75 239.17L305.25 234.87L307.75 239.17Z" fill="#222c74"/><path d="M317.75 243.91L320.25 239.61L322.75 243.91Z" fill="#222c74"/><rect x="212.47" y="178.33" width="4.2" height="4.4" fill="#e3191f"/><path d="M214.57 193.95V201.84M213.27 193.95h2.6M213.27 201.84h2.6" class="re"/><rect x="212.47" y="195.69" width="4.2" height="4.4" fill="#e3191f"/><rect x="227.62" y="187.01" width="4.2" height="4.4" fill="#e3191f"/><path d="M229.72 197.11V201.84M228.42 197.11h2.6M228.42 201.84h2.6" class="re"/><rect x="227.62" y="194.91" width="4.2" height="4.4" fill="#e3191f"/><rect x="242.62" y="195.69" width="4.2" height="4.4" fill="#e3191f"/><path d="M244.72 205.79V222.37M243.42 205.79h2.6M243.42 222.37h2.6" class="re"/><rect x="242.62" y="212.27" width="4.2" height="4.4" fill="#e3191f"/><rect x="257.78" y="208.33" width="4.2" height="4.4" fill="#e3191f"/><rect x="257.78" y="213.85" width="4.2" height="4.4" fill="#e3191f"/><rect x="257.78" y="225.69" width="4.2" height="4.4" fill="#e3191f"/><rect x="272.78" y="213.85" width="4.2" height="4.4" fill="#e3191f"/><rect x="272.78" y="217.8" width="4.2" height="4.4" fill="#e3191f"/><rect x="272.78" y="231.22" width="4.2" height="4.4" fill="#e3191f"/><rect x="272.83" y="212.27" width="4.2" height="4.4" fill="#e3191f"/><rect x="272.83" y="215.43" width="4.2" height="4.4" fill="#e3191f"/><rect x="272.83" y="231.22" width="4.2" height="4.4" fill="#e3191f"/><rect x="287.99" y="217.8" width="4.2" height="4.4" fill="#e3191f"/><rect x="287.99" y="232.8" width="4.2" height="4.4" fill="#e3191f"/><rect x="303.15" y="217.01" width="4.2" height="4.4" fill="#e3191f"/><rect x="303.15" y="222.54" width="4.2" height="4.4" fill="#e3191f"/><rect x="303.15" y="234.38" width="4.2" height="4.4" fill="#e3191f"/><rect x="318.15" y="225.69" width="4.2" height="4.4" fill="#e3191f"/><path d="M320.25 235.79V241.32M318.95 235.79h2.6M318.95 241.32h2.6" class="re"/><rect x="318.15" y="238.33" width="4.2" height="4.4" fill="#e3191f"/>
<path d="M389.5 162.66V248.2H517.55M389.5 248.2h-3.4M389.5 231.75h-2M389.5 215.3h-3.4M389.5 198.85h-2M389.5 182.4h-3.4M389.5 165.95h-2M396.95 248.2v3.2M427.1 248.2v3.2M457.25 248.2v3.2M487.4 248.2v3.2M517.55 248.2v3.2M390.26 248.2v1.8M392.28 248.2v1.8M394.03 248.2v1.8M395.57 248.2v1.8M406.03 248.2v1.8M411.34 248.2v1.8M415.1 248.2v1.8M418.02 248.2v1.8M420.41 248.2v1.8M422.43 248.2v1.8M424.18 248.2v1.8M425.72 248.2v1.8M436.18 248.2v1.8M441.49 248.2v1.8M445.25 248.2v1.8M448.17 248.2v1.8M450.56 248.2v1.8M452.58 248.2v1.8M454.33 248.2v1.8M455.87 248.2v1.8M466.33 248.2v1.8M471.64 248.2v1.8M475.4 248.2v1.8M478.32 248.2v1.8M480.71 248.2v1.8M482.73 248.2v1.8M484.48 248.2v1.8M486.02 248.2v1.8M496.48 248.2v1.8M501.79 248.2v1.8M505.55 248.2v1.8M508.47 248.2v1.8M510.86 248.2v1.8M512.88 248.2v1.8M514.63 248.2v1.8M516.17 248.2v1.8" stroke="#7c7c7c" stroke-width="1.05" fill="none"/>
<text transform="translate(385.3 251.5) scale(1 1.12)" text-anchor="end" class="tk">0</text>
<text transform="translate(385.3 218.6) scale(1 1.12)" text-anchor="end" class="tk">50</text>
<text transform="translate(385.3 185.7) scale(1 1.12)" text-anchor="end" class="tk">100</text>
<text transform="translate(396.95 260.1) scale(1 1.12)" text-anchor="middle" class="tk">0</text>
<text transform="translate(427.1 260.1) scale(1 1.12)" text-anchor="middle" class="tk">1</text>
<text transform="translate(457.25 260.1) scale(1 1.12)" text-anchor="middle" class="tk">2</text>
<text transform="translate(487.4 260.1) scale(1 1.12)" text-anchor="middle" class="tk">3</text>
<text transform="translate(517.55 260.1) scale(1 1.12)" text-anchor="middle" class="tk">4</text>
<text x="453.52" y="270.9" text-anchor="middle" class="al" style="font-size:8.5px">log<tspan font-size="5.2" dy="2.2">10</tspan><tspan dy="-2.2">[inhibitor] (nmol/L)</tspan></text>
<text transform="translate(370.9 205.43) scale(1 1.1) rotate(-90)" text-anchor="middle" class="al" style="font-size:8.4px">% RLU</text>
<text x="453.52" y="158.56" text-anchor="middle" class="ti">KELLY (F1174L)</text>
<text x="363.9" y="163.26" class="lt">F</text>
<clipPath id="cF"><rect x="389.5" y="142.66" width="128.85" height="105.54"/></clipPath>
<g clip-path="url(#cF)"><path d="M389.5 179.52 391 179.53 392.5 179.55 394 179.56 395.5 179.58 397 179.6 398.5 179.62 400 179.64 401.5 179.66 403 179.69 404.5 179.72 406 179.75 407.5 179.78 409 179.82 410.5 179.87 412 179.92 413.5 179.97 415 180.03 416.5 180.09 418 180.16 419.5 180.24 421 180.33 422.5 180.43 424 180.53 425.5 180.65 427 180.78 428.5 180.93 430 181.08 431.5 181.26 433 181.45 434.5 181.66 436 181.89 437.5 182.15 439 182.43 440.5 182.73 442 183.07 443.5 183.44 445 183.85 446.5 184.29 448 184.78 449.5 185.31 451 185.89 452.5 186.52 454 187.2 455.5 187.95 457 188.75 458.5 189.62 460 190.56 461.5 191.57 463 192.66 464.5 193.82 466 195.06 467.5 196.39 469 197.79 470.5 199.27 472 200.83 473.5 202.47 475 204.19 476.5 205.97 478 207.82 479.5 209.73 481 211.69 482.5 213.69 484 215.73 485.5 217.78 487 219.86 488.5 221.93 490 224 491.5 226.05 493 228.07 494.5 230.06 496 232 497.5 233.88 499 235.7 500.5 237.46 502 239.14 503.5 240.75 505 242.28 506.5 243.73 508 245.1 509.5 246.39 511 247.6 512.5 248.73 514 249.78 515.5 250.76 517 251.67 518.5 252.51" class="bl"/><path d="M389.5 180.45 391 180.46 392.5 180.47 394 180.48 395.5 180.5 397 180.51 398.5 180.53 400 180.55 401.5 180.57 403 180.6 404.5 180.63 406 180.66 407.5 180.69 409 180.73 410.5 180.77 412 180.82 413.5 180.87 415 180.93 416.5 180.99 418 181.06 419.5 181.14 421 181.22 422.5 181.32 424 181.42 425.5 181.54 427 181.66 428.5 181.81 430 181.96 431.5 182.14 433 182.33 434.5 182.54 436 182.77 437.5 183.03 439 183.31 440.5 183.62 442 183.96 443.5 184.34 445 184.75 446.5 185.2 448 185.7 449.5 186.24 451 186.83 452.5 187.48 454 188.18 455.5 188.95 457 189.78 458.5 190.68 460 191.65 461.5 192.7 463 193.82 464.5 195.02 466 196.31 467.5 197.68 469 199.13 470.5 200.66 472 202.28 473.5 203.97 475 205.74 476.5 207.57 478 209.47 479.5 211.42 481 213.41 482.5 215.44 484 217.5 485.5 219.58 487 221.66 488.5 223.73 490 225.78 491.5 227.81 493 229.8 494.5 231.74 496 233.62 497.5 235.44 499 237.19 500.5 238.87 502 240.46 503.5 241.98 505 243.42 506.5 244.77 508 246.04 509.5 247.22 511 248.33 512.5 249.36 514 250.32 515.5 251.2 517 252.02 518.5 252.77" class="bl"/><path d="M389.5 182.45 391 182.55 392.5 182.67 394 182.79 395.5 182.94 397 183.1 398.5 183.27 400 183.47 401.5 183.69 403 183.93 404.5 184.2 406 184.5 407.5 184.82 409 185.19 410.5 185.59 412 186.02 413.5 186.5 415 187.02 416.5 187.59 418 188.21 419.5 188.88 421 189.6 422.5 190.37 424 191.2 425.5 192.08 427 193.01 428.5 193.99 430 195.01 431.5 196.08 433 197.18 434.5 198.31 436 199.47 437.5 200.64 439 201.83 440.5 203.01 442 204.19 443.5 205.36 445 206.51 446.5 207.62 448 208.7 449.5 209.75 451 210.74 452.5 211.69 454 212.59 455.5 213.44 457 214.24 458.5 214.98 460 215.67 461.5 216.31 463 216.9 464.5 217.44 466 217.94 467.5 218.39 469 218.81 470.5 219.18 472 219.52 473.5 219.83 475 220.12 476.5 220.37 478 220.6 479.5 220.8 481 220.99 482.5 221.15 484 221.3 485.5 221.44 487 221.56 488.5 221.66 490 221.76 491.5 221.85 493 221.92 494.5 221.99 496 222.05 497.5 222.11 499 222.16 500.5 222.2 502 222.24 503.5 222.27 505 222.31 506.5 222.33 508 222.36 509.5 222.38 511 222.4 512.5 222.42 514 222.43 515.5 222.45 517 222.46 518.5 222.47" class="rl"/><path d="M389.5 182.71 391 182.85 392.5 183.01 394 183.18 395.5 183.37 397 183.59 398.5 183.82 400 184.08 401.5 184.36 403 184.67 404.5 185.01 406 185.39 407.5 185.79 409 186.24 410.5 186.72 412 187.25 413.5 187.82 415 188.43 416.5 189.09 418 189.8 419.5 190.56 421 191.37 422.5 192.22 424 193.13 425.5 194.08 427 195.08 428.5 196.13 430 197.21 431.5 198.32 433 199.46 434.5 200.63 436 201.82 437.5 203.01 439 204.21 440.5 205.41 442 206.6 443.5 207.77 445 208.92 446.5 210.04 448 211.12 449.5 212.17 451 213.17 452.5 214.13 454 215.05 455.5 215.91 457 216.72 458.5 217.49 460 218.2 461.5 218.87 463 219.49 464.5 220.07 466 220.6 467.5 221.09 469 221.53 470.5 221.95 472 222.32 473.5 222.67 475 222.98 476.5 223.27 478 223.53 479.5 223.77 481 223.98 482.5 224.18 484 224.36 485.5 224.52 487 224.66 488.5 224.79 490 224.91 491.5 225.01 493 225.11 494.5 225.2 496 225.27 497.5 225.35 499 225.41 500.5 225.47 502 225.52 503.5 225.56 505 225.6 506.5 225.64 508 225.68 509.5 225.71 511 225.73 512.5 225.76 514 225.78 515.5 225.8 517 225.82 518.5 225.83" class="rl"/></g>
<path d="M394.54 181.54L397.04 177.24L399.54 181.54Z" fill="#222c74"/><path d="M409.54 182.33L412.04 178.03L414.54 182.33Z" fill="#222c74"/><path d="M424.7 183.91L427.2 179.61L429.7 183.91Z" fill="#222c74"/><path d="M439.86 183.12L442.36 178.82L444.86 183.12Z" fill="#222c74"/><path d="M439.86 186.27L442.36 181.97L444.86 186.27Z" fill="#222c74"/><path d="M454.86 181.54L457.36 177.24L459.86 181.54Z" fill="#222c74"/><path d="M454.86 185.48L457.36 181.18L459.86 185.48Z" fill="#222c74"/><path d="M454.86 182.33L457.36 178.03L459.86 182.33Z" fill="#222c74"/><path d="M454.86 188.64L457.36 184.34L459.86 188.64Z" fill="#222c74"/><path d="M472.51 195.53V200.26M471.21 195.53h2.6M471.21 200.26h2.6" class="be"/><path d="M470.01 201.27L472.51 196.97L475.01 201.27Z" fill="#222c74"/><path d="M485.17 224.96L487.67 220.66L490.17 224.96Z" fill="#222c74"/><path d="M500.17 249.43L502.67 245.13L505.17 249.43Z" fill="#222c74"/><rect x="394.94" y="180.69" width="4.2" height="4.4" fill="#e3191f"/><rect x="409.94" y="183.85" width="4.2" height="4.4" fill="#e3191f"/><rect x="409.94" y="187.01" width="4.2" height="4.4" fill="#e3191f"/><rect x="425.1" y="191.75" width="4.2" height="4.4" fill="#e3191f"/><rect x="425.1" y="195.69" width="4.2" height="4.4" fill="#e3191f"/><rect x="440.26" y="204.38" width="4.2" height="4.4" fill="#e3191f"/><rect x="440.26" y="206.75" width="4.2" height="4.4" fill="#e3191f"/><rect x="455.26" y="212.27" width="4.2" height="4.4" fill="#e3191f"/><rect x="455.26" y="212.27" width="4.2" height="4.4" fill="#e3191f"/><rect x="470.41" y="213.85" width="4.2" height="4.4" fill="#e3191f"/><rect x="470.41" y="217.8" width="4.2" height="4.4" fill="#e3191f"/><rect x="485.57" y="213.85" width="4.2" height="4.4" fill="#e3191f"/><rect x="485.57" y="219.38" width="4.2" height="4.4" fill="#e3191f"/><rect x="500.57" y="220.17" width="4.2" height="4.4" fill="#e3191f"/><rect x="500.57" y="224.12" width="4.2" height="4.4" fill="#e3191f"/>
<path d="M26.1 310.66V396.2H154.15M26.1 396.2h-3.4M26.1 379.75h-2M26.1 363.3h-3.4M26.1 346.85h-2M26.1 330.4h-3.4M26.1 313.95h-2M33.55 396.2v3.2M63.7 396.2v3.2M93.85 396.2v3.2M124 396.2v3.2M154.15 396.2v3.2M26.86 396.2v1.8M28.88 396.2v1.8M30.63 396.2v1.8M32.17 396.2v1.8M42.63 396.2v1.8M47.94 396.2v1.8M51.7 396.2v1.8M54.62 396.2v1.8M57.01 396.2v1.8M59.03 396.2v1.8M60.78 396.2v1.8M62.32 396.2v1.8M72.78 396.2v1.8M78.09 396.2v1.8M81.85 396.2v1.8M84.77 396.2v1.8M87.16 396.2v1.8M89.18 396.2v1.8M90.93 396.2v1.8M92.47 396.2v1.8M102.93 396.2v1.8M108.24 396.2v1.8M112 396.2v1.8M114.92 396.2v1.8M117.31 396.2v1.8M119.33 396.2v1.8M121.08 396.2v1.8M122.62 396.2v1.8M133.08 396.2v1.8M138.39 396.2v1.8M142.15 396.2v1.8M145.07 396.2v1.8M147.46 396.2v1.8M149.48 396.2v1.8M151.23 396.2v1.8M152.77 396.2v1.8" stroke="#7c7c7c" stroke-width="1.05" fill="none"/>
<text transform="translate(21.9 399.5) scale(1 1.12)" text-anchor="end" class="tk">0</text>
<text transform="translate(21.9 366.6) scale(1 1.12)" text-anchor="end" class="tk">50</text>
<text transform="translate(21.9 333.7) scale(1 1.12)" text-anchor="end" class="tk">100</text>
<text transform="translate(33.55 408.1) scale(1 1.12)" text-anchor="middle" class="tk">0</text>
<text transform="translate(63.7 408.1) scale(1 1.12)" text-anchor="middle" class="tk">1</text>
<text transform="translate(93.85 408.1) scale(1 1.12)" text-anchor="middle" class="tk">2</text>
<text transform="translate(124 408.1) scale(1 1.12)" text-anchor="middle" class="tk">3</text>
<text transform="translate(154.15 408.1) scale(1 1.12)" text-anchor="middle" class="tk">4</text>
<text x="90.12" y="418.9" text-anchor="middle" class="al" style="font-size:8.5px">log<tspan font-size="5.2" dy="2.2">10</tspan><tspan dy="-2.2">[inhibitor] (nmol/L)</tspan></text>
<text transform="translate(7.5 353.43) scale(1 1.1) rotate(-90)" text-anchor="middle" class="al" style="font-size:8.4px">% RLU</text>
<text x="90.12" y="306.56" text-anchor="middle" class="ti">Felix (F1245C)</text>
<text x="0.5" y="311.26" class="lt">G</text>
<clipPath id="cG"><rect x="26.1" y="290.66" width="128.85" height="105.54"/></clipPath>
<g clip-path="url(#cG)"><path d="M26.1 323.47 27.6 323.47 29.1 323.48 30.6 323.49 32.1 323.51 33.6 323.52 35.1 323.53 36.6 323.55 38.1 323.57 39.6 323.59 41.1 323.61 42.6 323.63 44.1 323.66 45.6 323.69 47.1 323.72 48.6 323.76 50.1 323.8 51.6 323.84 53.1 323.89 54.6 323.94 56.1 324 57.6 324.07 59.1 324.14 60.6 324.22 62.1 324.31 63.6 324.41 65.1 324.52 66.6 324.64 68.1 324.78 69.6 324.93 71.1 325.09 72.6 325.27 74.1 325.47 75.6 325.69 77.1 325.93 78.6 326.2 80.1 326.49 81.6 326.81 83.1 327.16 84.6 327.55 86.1 327.97 87.6 328.44 89.1 328.94 90.6 329.5 92.1 330.1 93.6 330.76 95.1 331.47 96.6 332.24 98.1 333.08 99.6 333.98 101.1 334.95 102.6 335.99 104.1 337.11 105.6 338.3 107.1 339.56 108.6 340.91 110.1 342.32 111.6 343.81 113.1 345.37 114.6 347 116.1 348.69 117.6 350.43 119.1 352.22 120.6 354.06 122.1 355.93 123.6 357.82 125.1 359.72 126.6 361.63 128.1 363.53 129.6 365.42 131.1 367.28 132.6 369.1 134.1 370.88 135.6 372.61 137.1 374.28 138.6 375.89 140.1 377.43 141.6 378.9 143.1 380.3 144.6 381.62 146.1 382.86 147.6 384.03 149.1 385.13 150.6 386.15 152.1 387.1 153.6 387.99 155.1 388.81" class="bl"/><path d="M26.1 324.33 27.6 324.34 29.1 324.36 30.6 324.37 32.1 324.39 33.6 324.4 35.1 324.42 36.6 324.45 38.1 324.47 39.6 324.5 41.1 324.53 42.6 324.56 44.1 324.59 45.6 324.63 47.1 324.68 48.6 324.73 50.1 324.78 51.6 324.84 53.1 324.9 54.6 324.97 56.1 325.05 57.6 325.14 59.1 325.23 60.6 325.34 62.1 325.45 63.6 325.58 65.1 325.72 66.6 325.87 68.1 326.04 69.6 326.23 71.1 326.43 72.6 326.66 74.1 326.9 75.6 327.17 77.1 327.47 78.6 327.79 80.1 328.14 81.6 328.53 83.1 328.95 84.6 329.41 86.1 329.92 87.6 330.46 89.1 331.05 90.6 331.7 92.1 332.39 93.6 333.15 95.1 333.96 96.6 334.83 98.1 335.77 99.6 336.77 101.1 337.85 102.6 338.99 104.1 340.21 105.6 341.49 107.1 342.85 108.6 344.28 110.1 345.78 111.6 347.34 113.1 348.96 114.6 350.64 116.1 352.36 117.6 354.14 119.1 355.95 120.6 357.79 122.1 359.65 123.6 361.52 125.1 363.39 126.6 365.25 128.1 367.1 129.6 368.93 131.1 370.72 132.6 372.47 134.1 374.17 135.6 375.82 137.1 377.41 138.6 378.94 140.1 380.4 141.6 381.79 143.1 383.11 144.6 384.36 146.1 385.54 147.6 386.65 149.1 387.69 150.6 388.66 152.1 389.56 153.6 390.4 155.1 391.18" class="bl"/><path d="M26.1 326.2 27.6 326.33 29.1 326.47 30.6 326.64 32.1 326.82 33.6 327.02 35.1 327.25 36.6 327.51 38.1 327.79 39.6 328.11 41.1 328.46 42.6 328.85 44.1 329.29 45.6 329.77 47.1 330.3 48.6 330.88 50.1 331.52 51.6 332.22 53.1 332.98 54.6 333.81 56.1 334.71 57.6 335.68 59.1 336.72 60.6 337.82 62.1 339 63.6 340.25 65.1 341.55 66.6 342.92 68.1 344.33 69.6 345.79 71.1 347.28 72.6 348.79 74.1 350.32 75.6 351.84 77.1 353.36 78.6 354.86 80.1 356.33 81.6 357.76 83.1 359.15 84.6 360.48 86.1 361.75 87.6 362.95 89.1 364.08 90.6 365.15 92.1 366.14 93.6 367.07 95.1 367.92 96.6 368.71 98.1 369.44 99.6 370.1 101.1 370.7 102.6 371.25 104.1 371.75 105.6 372.2 107.1 372.61 108.6 372.98 110.1 373.31 111.6 373.6 113.1 373.87 114.6 374.11 116.1 374.32 117.6 374.51 119.1 374.68 120.6 374.83 122.1 374.97 123.6 375.09 125.1 375.2 126.6 375.3 128.1 375.38 129.6 375.46 131.1 375.52 132.6 375.58 134.1 375.64 135.6 375.69 137.1 375.73 138.6 375.76 140.1 375.8 141.6 375.83 143.1 375.85 144.6 375.88 146.1 375.9 147.6 375.92 149.1 375.93 150.6 375.95 152.1 375.96 153.6 375.97 155.1 375.98" class="rl"/><path d="M26.1 326.41 27.6 326.54 29.1 326.7 30.6 326.87 32.1 327.07 33.6 327.29 35.1 327.54 36.6 327.82 38.1 328.14 39.6 328.49 41.1 328.89 42.6 329.34 44.1 329.84 45.6 330.4 47.1 331.02 48.6 331.7 50.1 332.46 51.6 333.3 53.1 334.22 54.6 335.22 56.1 336.31 57.6 337.5 59.1 338.77 60.6 340.14 62.1 341.59 63.6 343.13 65.1 344.75 66.6 346.44 68.1 348.19 69.6 349.98 71.1 351.81 72.6 353.66 74.1 355.52 75.6 357.37 77.1 359.19 78.6 360.97 80.1 362.7 81.6 364.37 83.1 365.96 84.6 367.48 86.1 368.9 87.6 370.24 89.1 371.49 90.6 372.64 92.1 373.71 93.6 374.69 95.1 375.58 96.6 376.39 98.1 377.13 99.6 377.79 101.1 378.39 102.6 378.93 104.1 379.41 105.6 379.84 107.1 380.23 108.6 380.57 110.1 380.88 111.6 381.15 113.1 381.39 114.6 381.61 116.1 381.79 117.6 381.96 119.1 382.11 120.6 382.24 122.1 382.36 123.6 382.46 125.1 382.55 126.6 382.63 128.1 382.7 129.6 382.76 131.1 382.81 132.6 382.86 134.1 382.9 135.6 382.94 137.1 382.97 138.6 383 140.1 383.03 141.6 383.05 143.1 383.07 144.6 383.09 146.1 383.1 147.6 383.12 149.1 383.13 150.6 383.14 152.1 383.15 153.6 383.16 155.1 383.16" class="rl"/></g>
<path d="M31.01 325.83L33.51 321.53L36.01 325.83Z" fill="#222c74"/><path d="M46.15 330.03L48.65 325.73L51.15 330.03Z" fill="#222c74"/><path d="M46.15 334.24L48.65 329.94L51.15 334.24Z" fill="#222c74"/><path d="M46.15 339.15L48.65 334.85L51.15 339.15Z" fill="#222c74"/><path d="M63.52 312.1V314.91M62.22 312.1h2.6M62.22 314.91h2.6" class="be"/><path d="M61.02 316.01L63.52 311.71L66.02 316.01Z" fill="#222c74"/><path d="M61.02 322.32L63.52 318.02L66.02 322.32Z" fill="#222c74"/><path d="M76.31 330.03L78.81 325.73L81.31 330.03Z" fill="#222c74"/><path d="M76.31 334.94L78.81 330.64L81.31 334.94Z" fill="#222c74"/><path d="M76.31 339.15L78.81 334.85L81.31 339.15Z" fill="#222c74"/><path d="M93.93 317.47V322.21M92.63 317.47h2.6M92.63 322.21h2.6" class="be"/><path d="M91.43 323.22L93.93 318.92L96.43 323.22Z" fill="#222c74"/><path d="M91.43 328.75L93.93 324.45L96.43 328.75Z" fill="#222c74"/><path d="M106.59 349.27L109.09 344.97L111.59 349.27Z" fill="#222c74"/><path d="M106.59 354.01L109.09 349.71L111.59 354.01Z" fill="#222c74"/><path d="M124.25 356.95V362.47M122.95 356.95h2.6M122.95 362.47h2.6" class="be"/><path d="M121.75 363.48L124.25 359.18L126.75 363.48Z" fill="#222c74"/><path d="M121.75 372.96L124.25 368.66L126.75 372.96Z" fill="#222c74"/><path d="M136.75 373.75L139.25 369.45L141.75 373.75Z" fill="#222c74"/><path d="M33.51 314.91V318.42M32.21 314.91h2.6M32.21 318.42h2.6" class="re"/><rect x="31.41" y="315.51" width="4.2" height="4.4" fill="#e3191f"/><rect x="31.41" y="318.32" width="4.2" height="4.4" fill="#e3191f"/><rect x="46.55" y="332.34" width="4.2" height="4.4" fill="#e3191f"/><path d="M48.65 335.25V344.36M47.35 335.25h2.6M47.35 344.36h2.6" class="re"/><rect x="46.55" y="336.55" width="4.2" height="4.4" fill="#e3191f"/><rect x="61.42" y="331.64" width="4.2" height="4.4" fill="#e3191f"/><rect x="61.42" y="337.25" width="4.2" height="4.4" fill="#e3191f"/><rect x="76.71" y="357.59" width="4.2" height="4.4" fill="#e3191f"/><rect x="76.71" y="363.9" width="4.2" height="4.4" fill="#e3191f"/><rect x="91.83" y="363.43" width="4.2" height="4.4" fill="#e3191f"/><rect x="91.83" y="371.33" width="4.2" height="4.4" fill="#e3191f"/><rect x="106.99" y="370.54" width="4.2" height="4.4" fill="#e3191f"/><rect x="106.99" y="379.22" width="4.2" height="4.4" fill="#e3191f"/><rect x="122.15" y="370.54" width="4.2" height="4.4" fill="#e3191f"/><rect x="122.15" y="378.43" width="4.2" height="4.4" fill="#e3191f"/><rect x="137.15" y="380.8" width="4.2" height="4.4" fill="#e3191f"/>
<path d="M207.1 310.66V396.2H335.15M207.1 396.2h-3.4M207.1 379.75h-2M207.1 363.3h-3.4M207.1 346.85h-2M207.1 330.4h-3.4M207.1 313.95h-2M214.55 396.2v3.2M244.7 396.2v3.2M274.85 396.2v3.2M305 396.2v3.2M335.15 396.2v3.2M207.86 396.2v1.8M209.88 396.2v1.8M211.63 396.2v1.8M213.17 396.2v1.8M223.63 396.2v1.8M228.94 396.2v1.8M232.7 396.2v1.8M235.62 396.2v1.8M238.01 396.2v1.8M240.03 396.2v1.8M241.78 396.2v1.8M243.32 396.2v1.8M253.78 396.2v1.8M259.09 396.2v1.8M262.85 396.2v1.8M265.77 396.2v1.8M268.16 396.2v1.8M270.18 396.2v1.8M271.93 396.2v1.8M273.47 396.2v1.8M283.93 396.2v1.8M289.24 396.2v1.8M293 396.2v1.8M295.92 396.2v1.8M298.31 396.2v1.8M300.33 396.2v1.8M302.08 396.2v1.8M303.62 396.2v1.8M314.08 396.2v1.8M319.39 396.2v1.8M323.15 396.2v1.8M326.07 396.2v1.8M328.46 396.2v1.8M330.48 396.2v1.8M332.23 396.2v1.8M333.77 396.2v1.8" stroke="#7c7c7c" stroke-width="1.05" fill="none"/>
<text transform="translate(202.9 399.5) scale(1 1.12)" text-anchor="end" class="tk">0</text>
<text transform="translate(202.9 366.6) scale(1 1.12)" text-anchor="end" class="tk">50</text>
<text transform="translate(202.9 333.7) scale(1 1.12)" text-anchor="end" class="tk">100</text>
<text transform="translate(214.55 408.1) scale(1 1.12)" text-anchor="middle" class="tk">0</text>
<text transform="translate(244.7 408.1) scale(1 1.12)" text-anchor="middle" class="tk">1</text>
<text transform="translate(274.85 408.1) scale(1 1.12)" text-anchor="middle" class="tk">2</text>
<text transform="translate(305 408.1) scale(1 1.12)" text-anchor="middle" class="tk">3</text>
<text transform="translate(335.15 408.1) scale(1 1.12)" text-anchor="middle" class="tk">4</text>
<text x="271.12" y="418.9" text-anchor="middle" class="al" style="font-size:8.5px">log<tspan font-size="5.2" dy="2.2">10</tspan><tspan dy="-2.2">[inhibitor] (nmol/L)</tspan></text>
<text transform="translate(188.5 353.43) scale(1 1.1) rotate(-90)" text-anchor="middle" class="al" style="font-size:8.4px">% RLU</text>
<text x="271.12" y="306.56" text-anchor="middle" class="ti">NB-1 (WT Amp)</text>
<text x="181.5" y="311.26" class="lt">H</text>
<clipPath id="cH"><rect x="207.1" y="290.66" width="128.85" height="105.54"/></clipPath>
<g clip-path="url(#cH)"><path d="M207.1 312.57 208.6 312.6 210.1 312.63 211.6 312.67 213.1 312.7 214.6 312.74 216.1 312.79 217.6 312.84 219.1 312.9 220.6 312.96 222.1 313.02 223.6 313.1 225.1 313.18 226.6 313.27 228.1 313.37 229.6 313.48 231.1 313.6 232.6 313.74 234.1 313.89 235.6 314.05 237.1 314.23 238.6 314.42 240.1 314.64 241.6 314.88 243.1 315.14 244.6 315.42 246.1 315.74 247.6 316.08 249.1 316.46 250.6 316.88 252.1 317.33 253.6 317.82 255.1 318.36 256.6 318.95 258.1 319.59 259.6 320.28 261.1 321.03 262.6 321.85 264.1 322.73 265.6 323.68 267.1 324.7 268.6 325.8 270.1 326.98 271.6 328.23 273.1 329.57 274.6 330.99 276.1 332.49 277.6 334.08 279.1 335.74 280.6 337.48 282.1 339.3 283.6 341.18 285.1 343.13 286.6 345.13 288.1 347.18 289.6 349.27 291.1 351.39 292.6 353.53 294.1 355.67 295.6 357.82 297.1 359.95 298.6 362.06 300.1 364.13 301.6 366.17 303.1 368.15 304.6 370.07 306.1 371.93 307.6 373.72 309.1 375.44 310.6 377.07 312.1 378.62 313.6 380.1 315.1 381.49 316.6 382.79 318.1 384.02 319.6 385.17 321.1 386.24 322.6 387.23 324.1 388.16 325.6 389.01 327.1 389.8 328.6 390.53 330.1 391.21 331.6 391.83 333.1 392.4 334.6 392.92 336.1 393.4" class="bl" style="stroke-width:1.2"/><path d="M207.1 328.4 208.6 328.43 210.1 328.47 211.6 328.51 213.1 328.55 214.6 328.6 216.1 328.65 217.6 328.71 219.1 328.78 220.6 328.85 222.1 328.92 223.6 329.01 225.1 329.1 226.6 329.2 228.1 329.31 229.6 329.43 231.1 329.56 232.6 329.71 234.1 329.86 235.6 330.04 237.1 330.23 238.6 330.43 240.1 330.66 241.6 330.91 243.1 331.18 244.6 331.47 246.1 331.79 247.6 332.14 249.1 332.52 250.6 332.93 252.1 333.37 253.6 333.86 255.1 334.38 256.6 334.95 258.1 335.56 259.6 336.21 261.1 336.92 262.6 337.68 264.1 338.49 265.6 339.36 267.1 340.29 268.6 341.27 270.1 342.32 271.6 343.42 273.1 344.59 274.6 345.82 276.1 347.1 277.6 348.44 279.1 349.84 280.6 351.29 282.1 352.78 283.6 354.32 285.1 355.89 286.6 357.5 288.1 359.13 289.6 360.78 291.1 362.44 292.6 364.1 294.1 365.76 295.6 367.41 297.1 369.04 298.6 370.64 300.1 372.21 301.6 373.75 303.1 375.24 304.6 376.68 306.1 378.07 307.6 379.41 309.1 380.69 310.6 381.91 312.1 383.07 313.6 384.17 315.1 385.22 316.6 386.2 318.1 387.12 319.6 387.98 321.1 388.79 322.6 389.55 324.1 390.25 325.6 390.9 327.1 391.51 328.6 392.07 330.1 392.59 331.6 393.07 333.1 393.51 334.6 393.92 336.1 394.3" class="bl" style="stroke-width:1.2"/><path d="M207.1 341.41 208.6 341.46 210.1 341.51 211.6 341.57 213.1 341.63 214.6 341.7 216.1 341.77 217.6 341.85 219.1 341.94 220.6 342.04 222.1 342.14 223.6 342.25 225.1 342.37 226.6 342.51 228.1 342.65 229.6 342.81 231.1 342.98 232.6 343.16 234.1 343.36 235.6 343.57 237.1 343.8 238.6 344.05 240.1 344.33 241.6 344.62 243.1 344.93 244.6 345.27 246.1 345.64 247.6 346.03 249.1 346.45 250.6 346.9 252.1 347.39 253.6 347.9 255.1 348.46 256.6 349.04 258.1 349.67 259.6 350.33 261.1 351.04 262.6 351.78 264.1 352.56 265.6 353.39 267.1 354.26 268.6 355.16 270.1 356.11 271.6 357.1 273.1 358.12 274.6 359.18 276.1 360.27 277.6 361.39 279.1 362.54 280.6 363.71 282.1 364.9 283.6 366.11 285.1 367.33 286.6 368.56 288.1 369.79 289.6 371.02 291.1 372.24 292.6 373.45 294.1 374.65 295.6 375.83 297.1 376.98 298.6 378.11 300.1 379.2 301.6 380.27 303.1 381.3 304.6 382.29 306.1 383.24 307.6 384.16 309.1 385.03 310.6 385.86 312.1 386.66 313.6 387.41 315.1 388.12 316.6 388.79 318.1 389.42 319.6 390.01 321.1 390.57 322.6 391.1 324.1 391.59 325.6 392.04 327.1 392.47 328.6 392.87 330.1 393.24 331.6 393.58 333.1 393.9 334.6 394.2 336.1 394.47" class="bl" style="stroke-width:1.2"/><path d="M207.1 331.17 208.6 331.46 210.1 331.79 211.6 332.17 213.1 332.59 214.6 333.07 216.1 333.61 217.6 334.2 219.1 334.87 220.6 335.61 222.1 336.43 223.6 337.34 225.1 338.33 226.6 339.42 228.1 340.59 229.6 341.86 231.1 343.22 232.6 344.67 234.1 346.2 235.6 347.8 237.1 349.47 238.6 351.18 240.1 352.93 241.6 354.71 243.1 356.48 244.6 358.25 246.1 359.99 247.6 361.68 249.1 363.32 250.6 364.89 252.1 366.39 253.6 367.8 255.1 369.12 256.6 370.35 258.1 371.49 259.6 372.54 261.1 373.49 262.6 374.36 264.1 375.15 265.6 375.86 267.1 376.5 268.6 377.07 270.1 377.58 271.6 378.03 273.1 378.43 274.6 378.79 276.1 379.11 277.6 379.39 279.1 379.63 280.6 379.85 282.1 380.04 283.6 380.21 285.1 380.36 286.6 380.49 288.1 380.6 289.6 380.7 291.1 380.79 292.6 380.86 294.1 380.93 295.6 380.99 297.1 381.04 298.6 381.09 300.1 381.12 301.6 381.16 303.1 381.19 304.6 381.21 306.1 381.24 307.6 381.26 309.1 381.28 310.6 381.29 312.1 381.3 313.6 381.32 315.1 381.33 316.6 381.33 318.1 381.34 319.6 381.35 321.1 381.35 322.6 381.36 324.1 381.36 325.6 381.37 327.1 381.37 328.6 381.37 330.1 381.38 331.6 381.38 333.1 381.38 334.6 381.38 336.1 381.38" class="rl"/><path d="M207.1 336.21 208.6 336.55 210.1 336.92 211.6 337.34 213.1 337.8 214.6 338.32 216.1 338.9 217.6 339.54 219.1 340.24 220.6 341.02 222.1 341.87 223.6 342.8 225.1 343.81 226.6 344.9 228.1 346.07 229.6 347.33 231.1 348.67 232.6 350.08 234.1 351.56 235.6 353.1 237.1 354.7 238.6 356.33 240.1 358 241.6 359.68 243.1 361.36 244.6 363.04 246.1 364.69 247.6 366.3 249.1 367.86 250.6 369.37 252.1 370.81 253.6 372.17 255.1 373.46 256.6 374.67 258.1 375.79 259.6 376.83 261.1 377.79 262.6 378.67 264.1 379.47 265.6 380.21 267.1 380.87 268.6 381.47 270.1 382.01 271.6 382.5 273.1 382.93 274.6 383.32 276.1 383.67 277.6 383.98 279.1 384.26 280.6 384.5 282.1 384.72 283.6 384.91 285.1 385.09 286.6 385.24 288.1 385.37 289.6 385.49 291.1 385.6 292.6 385.69 294.1 385.77 295.6 385.84 297.1 385.91 298.6 385.96 300.1 386.01 301.6 386.06 303.1 386.1 304.6 386.13 306.1 386.16 307.6 386.19 309.1 386.21 310.6 386.23 312.1 386.25 313.6 386.26 315.1 386.28 316.6 386.29 318.1 386.3 319.6 386.31 321.1 386.32 322.6 386.33 324.1 386.33 325.6 386.34 327.1 386.34 328.6 386.35 330.1 386.35 331.6 386.36 333.1 386.36 334.6 386.36 336.1 386.36" class="rl"/><path d="M207.1 340.41 208.6 340.75 210.1 341.13 211.6 341.55 213.1 342.03 214.6 342.56 216.1 343.16 217.6 343.82 219.1 344.55 220.6 345.36 222.1 346.24 223.6 347.22 225.1 348.27 226.6 349.41 228.1 350.64 229.6 351.95 231.1 353.34 232.6 354.81 234.1 356.34 235.6 357.92 237.1 359.55 238.6 361.2 240.1 362.88 241.6 364.55 243.1 366.21 244.6 367.83 246.1 369.42 247.6 370.95 249.1 372.42 250.6 373.82 252.1 375.13 253.6 376.36 255.1 377.51 256.6 378.57 258.1 379.55 259.6 380.44 261.1 381.25 262.6 381.99 264.1 382.65 265.6 383.25 267.1 383.79 268.6 384.26 270.1 384.69 271.6 385.07 273.1 385.41 274.6 385.71 276.1 385.98 277.6 386.21 279.1 386.42 280.6 386.6 282.1 386.76 283.6 386.9 285.1 387.02 286.6 387.13 288.1 387.23 289.6 387.31 291.1 387.39 292.6 387.45 294.1 387.51 295.6 387.56 297.1 387.6 298.6 387.64 300.1 387.67 301.6 387.7 303.1 387.73 304.6 387.75 306.1 387.77 307.6 387.79 309.1 387.8 310.6 387.82 312.1 387.83 313.6 387.84 315.1 387.85 316.6 387.85 318.1 387.86 319.6 387.87 321.1 387.87 322.6 387.88 324.1 387.88 325.6 387.88 327.1 387.89 328.6 387.89 330.1 387.89 331.6 387.89 333.1 387.9 334.6 387.9 336.1 387.9" class="rl"/></g>
<path d="M212.07 329.54L214.57 325.24L217.07 329.54Z" fill="#222c74"/><path d="M214.57 353V355.37M213.27 353h2.6M213.27 355.37h2.6" class="be"/><path d="M212.07 354.8L214.57 350.5L217.07 354.8Z" fill="#222c74"/><path d="M229.72 311.16V323.79M228.42 311.16h2.6M228.42 323.79h2.6" class="be"/><path d="M227.22 324.8L229.72 320.5L232.22 324.8Z" fill="#222c74"/><path d="M227.22 335.85L229.72 331.55L232.22 335.85Z" fill="#222c74"/><path d="M227.22 343.75L229.72 339.45L232.22 343.75Z" fill="#222c74"/><path d="M244.72 320.63V326.95M243.42 320.63h2.6M243.42 326.95h2.6" class="be"/><path d="M242.22 327.96L244.72 323.66L247.22 327.96Z" fill="#222c74"/><path d="M242.22 354.8L244.72 350.5L247.22 354.8Z" fill="#222c74"/><path d="M259.88 311.16V323.79M258.58 311.16h2.6M258.58 323.79h2.6" class="be"/><path d="M257.38 324.8L259.88 320.5L262.38 324.8Z" fill="#222c74"/><path d="M257.38 343.75L259.88 339.45L262.38 343.75Z" fill="#222c74"/><path d="M257.38 348.48L259.88 344.18L262.38 348.48Z" fill="#222c74"/><path d="M272.38 335.06L274.88 330.76L277.38 335.06Z" fill="#222c74"/><path d="M272.38 346.12L274.88 341.82L277.38 346.12Z" fill="#222c74"/><path d="M272.38 368.22L274.88 363.92L277.38 368.22Z" fill="#222c74"/><path d="M274.93 315.11V323.79M273.63 315.11h2.6M273.63 323.79h2.6" class="be"/><path d="M272.43 324.8L274.93 320.5L277.43 324.8Z" fill="#222c74"/><path d="M274.93 335.63V344.32M273.63 335.63h2.6M273.63 344.32h2.6" class="be"/><path d="M272.43 342.17L274.93 337.87L277.43 342.17Z" fill="#222c74"/><path d="M272.43 368.22L274.93 363.92L277.43 368.22Z" fill="#222c74"/><path d="M290.09 364.84V368M288.79 364.84h2.6M288.79 368h2.6" class="be"/><path d="M287.59 369.01L290.09 364.71L292.59 369.01Z" fill="#222c74"/><path d="M287.59 373.75L290.09 369.45L292.59 373.75Z" fill="#222c74"/><path d="M302.75 376.12L305.25 371.82L307.75 376.12Z" fill="#222c74"/><path d="M302.75 379.27L305.25 374.97L307.75 379.27Z" fill="#222c74"/><path d="M317.75 391.91L320.25 387.61L322.75 391.91Z" fill="#222c74"/><path d="M214.57 319.05V325.37M213.27 319.05h2.6M213.27 325.37h2.6" class="re"/><rect x="212.47" y="320.8" width="4.2" height="4.4" fill="#e3191f"/><rect x="212.47" y="322.38" width="4.2" height="4.4" fill="#e3191f"/><rect x="212.47" y="338.17" width="4.2" height="4.4" fill="#e3191f"/><rect x="212.47" y="346.06" width="4.2" height="4.4" fill="#e3191f"/><rect x="227.62" y="344.48" width="4.2" height="4.4" fill="#e3191f"/><rect x="227.62" y="350.8" width="4.2" height="4.4" fill="#e3191f"/><rect x="242.62" y="360.27" width="4.2" height="4.4" fill="#e3191f"/><rect x="242.62" y="364.22" width="4.2" height="4.4" fill="#e3191f"/><rect x="242.62" y="371.33" width="4.2" height="4.4" fill="#e3191f"/><rect x="257.78" y="373.69" width="4.2" height="4.4" fill="#e3191f"/><rect x="257.78" y="378.43" width="4.2" height="4.4" fill="#e3191f"/><rect x="272.78" y="371.33" width="4.2" height="4.4" fill="#e3191f"/><rect x="272.78" y="381.59" width="4.2" height="4.4" fill="#e3191f"/><rect x="272.83" y="371.33" width="4.2" height="4.4" fill="#e3191f"/><rect x="272.83" y="380.8" width="4.2" height="4.4" fill="#e3191f"/><rect x="287.99" y="375.27" width="4.2" height="4.4" fill="#e3191f"/><rect x="287.99" y="382.38" width="4.2" height="4.4" fill="#e3191f"/><rect x="303.15" y="378.43" width="4.2" height="4.4" fill="#e3191f"/><rect x="303.15" y="383.17" width="4.2" height="4.4" fill="#e3191f"/><rect x="318.15" y="377.64" width="4.2" height="4.4" fill="#e3191f"/><rect x="318.15" y="383.17" width="4.2" height="4.4" fill="#e3191f"/>
<path d="M389.5 310.66V396.2H517.55M389.5 396.2h-3.4M389.5 379.75h-2M389.5 363.3h-3.4M389.5 346.85h-2M389.5 330.4h-3.4M389.5 313.95h-2M396.95 396.2v3.2M427.1 396.2v3.2M457.25 396.2v3.2M487.4 396.2v3.2M517.55 396.2v3.2M390.26 396.2v1.8M392.28 396.2v1.8M394.03 396.2v1.8M395.57 396.2v1.8M406.03 396.2v1.8M411.34 396.2v1.8M415.1 396.2v1.8M418.02 396.2v1.8M420.41 396.2v1.8M422.43 396.2v1.8M424.18 396.2v1.8M425.72 396.2v1.8M436.18 396.2v1.8M441.49 396.2v1.8M445.25 396.2v1.8M448.17 396.2v1.8M450.56 396.2v1.8M452.58 396.2v1.8M454.33 396.2v1.8M455.87 396.2v1.8M466.33 396.2v1.8M471.64 396.2v1.8M475.4 396.2v1.8M478.32 396.2v1.8M480.71 396.2v1.8M482.73 396.2v1.8M484.48 396.2v1.8M486.02 396.2v1.8M496.48 396.2v1.8M501.79 396.2v1.8M505.55 396.2v1.8M508.47 396.2v1.8M510.86 396.2v1.8M512.88 396.2v1.8M514.63 396.2v1.8M516.17 396.2v1.8" stroke="#7c7c7c" stroke-width="1.05" fill="none"/>
<text transform="translate(385.3 399.5) scale(1 1.12)" text-anchor="end" class="tk">0</text>
<text transform="translate(385.3 366.6) scale(1 1.12)" text-anchor="end" class="tk">50</text>
<text transform="translate(385.3 333.7) scale(1 1.12)" text-anchor="end" class="tk">100</text>
<text transform="translate(396.95 408.1) scale(1 1.12)" text-anchor="middle" class="tk">0</text>
<text transform="translate(427.1 408.1) scale(1 1.12)" text-anchor="middle" class="tk">1</text>
<text transform="translate(457.25 408.1) scale(1 1.12)" text-anchor="middle" class="tk">2</text>
<text transform="translate(487.4 408.1) scale(1 1.12)" text-anchor="middle" class="tk">3</text>
<text transform="translate(517.55 408.1) scale(1 1.12)" text-anchor="middle" class="tk">4</text>
<text x="453.52" y="418.9" text-anchor="middle" class="al" style="font-size:8.5px">log<tspan font-size="5.2" dy="2.2">10</tspan><tspan dy="-2.2">[inhibitor] (nmol/L)</tspan></text>
<text transform="translate(370.9 353.43) scale(1 1.1) rotate(-90)" text-anchor="middle" class="al" style="font-size:8.4px">% RLU</text>
<text x="453.52" y="306.56" text-anchor="middle" class="ti">NCI-H3122 (EML4-ALK, v1)</text>
<text x="363.9" y="311.26" class="lt">I</text>
<clipPath id="cI"><rect x="389.5" y="290.66" width="128.85" height="105.54"/></clipPath>
<g clip-path="url(#cI)"><path d="M389.5 325.36 391 325.37 392.5 325.39 394 325.41 395.5 325.43 397 325.45 398.5 325.48 400 325.51 401.5 325.54 403 325.58 404.5 325.62 406 325.66 407.5 325.71 409 325.77 410.5 325.83 412 325.9 413.5 325.98 415 326.07 416.5 326.17 418 326.28 419.5 326.4 421 326.54 422.5 326.7 424 326.87 425.5 327.06 427 327.27 428.5 327.51 430 327.78 431.5 328.07 433 328.4 434.5 328.76 436 329.16 437.5 329.61 439 330.1 440.5 330.64 442 331.24 443.5 331.9 445 332.63 446.5 333.42 448 334.29 449.5 335.23 451 336.25 452.5 337.37 454 338.57 455.5 339.86 457 341.24 458.5 342.71 460 344.28 461.5 345.93 463 347.67 464.5 349.49 466 351.38 467.5 353.33 469 355.34 470.5 357.39 472 359.47 473.5 361.57 475 363.67 476.5 365.77 478 367.84 479.5 369.87 481 371.86 482.5 373.79 484 375.65 485.5 377.43 487 379.13 488.5 380.75 490 382.27 491.5 383.71 493 385.05 494.5 386.3 496 387.46 497.5 388.53 499 389.52 500.5 390.43 502 391.27 503.5 392.03 505 392.72 506.5 393.36 508 393.93 509.5 394.45 511 394.92 512.5 395.35 514 395.74 515.5 396.08 517 396.4 518.5 396.68" class="bl"/><path d="M389.5 326.95 391 326.97 392.5 326.99 394 327.01 395.5 327.03 397 327.05 398.5 327.08 400 327.11 401.5 327.14 403 327.18 404.5 327.22 406 327.27 407.5 327.33 409 327.39 410.5 327.46 412 327.53 413.5 327.62 415 327.71 416.5 327.82 418 327.94 419.5 328.07 421 328.22 422.5 328.39 424 328.58 425.5 328.79 427 329.02 428.5 329.28 430 329.57 431.5 329.89 433 330.25 434.5 330.65 436 331.09 437.5 331.57 439 332.11 440.5 332.71 442 333.36 443.5 334.08 445 334.87 446.5 335.74 448 336.68 449.5 337.71 451 338.82 452.5 340.02 454 341.32 455.5 342.7 457 344.18 458.5 345.76 460 347.42 461.5 349.16 463 350.99 464.5 352.88 466 354.84 467.5 356.86 469 358.91 470.5 360.99 472 363.08 473.5 365.18 475 367.26 476.5 369.31 478 371.32 479.5 373.28 481 375.18 482.5 377.01 484 378.76 485.5 380.42 487 382 488.5 383.48 490 384.87 491.5 386.16 493 387.37 494.5 388.48 496 389.51 497.5 390.46 499 391.32 500.5 392.12 502 392.84 503.5 393.5 505 394.09 506.5 394.63 508 395.12 509.5 395.56 511 395.96 512.5 396.32 514 396.64 515.5 396.93 517 397.19 518.5 397.43" class="bl"/><path d="M389.5 334.92 391 335.69 392.5 336.55 394 337.5 395.5 338.54 397 339.68 398.5 340.93 400 342.29 401.5 343.75 403 345.32 404.5 346.99 406 348.76 407.5 350.61 409 352.54 410.5 354.54 412 356.58 413.5 358.65 415 360.73 416.5 362.81 418 364.86 419.5 366.86 421 368.81 422.5 370.69 424 372.47 425.5 374.17 427 375.76 428.5 377.25 430 378.63 431.5 379.91 433 381.08 434.5 382.15 436 383.12 437.5 383.99 439 384.78 440.5 385.49 442 386.13 443.5 386.7 445 387.2 446.5 387.65 448 388.05 449.5 388.41 451 388.72 452.5 388.99 454 389.24 455.5 389.45 457 389.64 458.5 389.81 460 389.95 461.5 390.08 463 390.19 464.5 390.29 466 390.38 467.5 390.45 469 390.52 470.5 390.58 472 390.63 473.5 390.68 475 390.71 476.5 390.75 478 390.78 479.5 390.81 481 390.83 482.5 390.85 484 390.87 485.5 390.88 487 390.89 488.5 390.91 490 390.92 491.5 390.93 493 390.93 494.5 390.94 496 390.95 497.5 390.95 499 390.96 500.5 390.96 502 390.96 503.5 390.97 505 390.97 506.5 390.97 508 390.97 509.5 390.98 511 390.98 512.5 390.98 514 390.98 515.5 390.98 517 390.98 518.5 390.98" class="rl"/><path d="M389.5 338.07 391 338.83 392.5 339.68 394 340.63 395.5 341.69 397 342.86 398.5 344.15 400 345.55 401.5 347.08 403 348.72 404.5 350.48 406 352.34 407.5 354.29 409 356.32 410.5 358.41 412 360.54 413.5 362.7 415 364.84 416.5 366.97 418 369.04 419.5 371.05 421 372.98 422.5 374.81 424 376.53 425.5 378.14 427 379.63 428.5 381 430 382.26 431.5 383.39 433 384.42 434.5 385.34 436 386.17 437.5 386.91 439 387.56 440.5 388.14 442 388.65 443.5 389.1 445 389.49 446.5 389.84 448 390.14 449.5 390.4 451 390.63 452.5 390.84 454 391.01 455.5 391.16 457 391.3 458.5 391.41 460 391.51 461.5 391.6 463 391.67 464.5 391.74 466 391.8 467.5 391.84 469 391.89 470.5 391.92 472 391.96 473.5 391.98 475 392.01 476.5 392.03 478 392.05 479.5 392.06 481 392.08 482.5 392.09 484 392.1 485.5 392.11 487 392.11 488.5 392.12 490 392.13 491.5 392.13 493 392.14 494.5 392.14 496 392.14 497.5 392.15 499 392.15 500.5 392.15 502 392.15 503.5 392.15 505 392.15 506.5 392.16 508 392.16 509.5 392.16 511 392.16 512.5 392.16 514 392.16 515.5 392.16 517 392.16 518.5 392.16" class="rl"/></g>
<path d="M394.54 327.48L397.04 323.18L399.54 327.48Z" fill="#222c74"/><path d="M409.54 333.17L412.04 328.87L414.54 333.17Z" fill="#222c74"/><path d="M424.7 330.33L427.2 326.03L429.7 330.33Z" fill="#222c74"/><path d="M424.7 332.69L427.2 328.39L429.7 332.69Z" fill="#222c74"/><path d="M439.86 330.33L442.36 326.03L444.86 330.33Z" fill="#222c74"/><path d="M439.86 334.27L442.36 329.97L444.86 334.27Z" fill="#222c74"/><path d="M454.86 327.17L457.36 322.87L459.86 327.17Z" fill="#222c74"/><path d="M454.86 330.33L457.36 326.03L459.86 330.33Z" fill="#222c74"/><path d="M454.86 326.38L457.36 322.08L459.86 326.38Z" fill="#222c74"/><path d="M454.86 330.33L457.36 326.03L459.86 330.33Z" fill="#222c74"/><path d="M470.01 370.59L472.51 366.29L475.01 370.59Z" fill="#222c74"/><path d="M472.51 374.32V379.05M471.21 374.32h2.6M471.21 379.05h2.6" class="be"/><path d="M470.01 376.12L472.51 371.82L475.01 376.12Z" fill="#222c74"/><path d="M485.17 387.17L487.67 382.87L490.17 387.17Z" fill="#222c74"/><path d="M500.17 395.85L502.67 391.55L505.17 395.85Z" fill="#222c74"/><rect x="394.94" y="323.17" width="4.2" height="4.4" fill="#e3191f"/><rect x="394.94" y="329.48" width="4.2" height="4.4" fill="#e3191f"/><path d="M412.04 355.37V362.47M410.74 355.37h2.6M410.74 362.47h2.6" class="re"/><rect x="409.94" y="359.48" width="4.2" height="4.4" fill="#e3191f"/><path d="M412.04 369.58V374.32M410.74 369.58h2.6M410.74 374.32h2.6" class="re"/><rect x="409.94" y="366.59" width="4.2" height="4.4" fill="#e3191f"/><rect x="425.1" y="383.17" width="4.2" height="4.4" fill="#e3191f"/><rect x="425.1" y="386.33" width="4.2" height="4.4" fill="#e3191f"/><rect x="440.26" y="386.33" width="4.2" height="4.4" fill="#e3191f"/><rect x="455.26" y="387.12" width="4.2" height="4.4" fill="#e3191f"/><rect x="455.26" y="386.33" width="4.2" height="4.4" fill="#e3191f"/><rect x="470.41" y="387.12" width="4.2" height="4.4" fill="#e3191f"/><rect x="485.57" y="385.54" width="4.2" height="4.4" fill="#e3191f"/><rect x="485.57" y="387.91" width="4.2" height="4.4" fill="#e3191f"/><rect x="500.57" y="387.91" width="4.2" height="4.4" fill="#e3191f"/>
<path d="M26.1 458.66V544.2H154.15M26.1 544.2h-3.4M26.1 527.75h-2M26.1 511.3h-3.4M26.1 494.85h-2M26.1 478.4h-3.4M26.1 461.95h-2M33.55 544.2v3.2M63.7 544.2v3.2M93.85 544.2v3.2M124 544.2v3.2M154.15 544.2v3.2M26.86 544.2v1.8M28.88 544.2v1.8M30.63 544.2v1.8M32.17 544.2v1.8M42.63 544.2v1.8M47.94 544.2v1.8M51.7 544.2v1.8M54.62 544.2v1.8M57.01 544.2v1.8M59.03 544.2v1.8M60.78 544.2v1.8M62.32 544.2v1.8M72.78 544.2v1.8M78.09 544.2v1.8M81.85 544.2v1.8M84.77 544.2v1.8M87.16 544.2v1.8M89.18 544.2v1.8M90.93 544.2v1.8M92.47 544.2v1.8M102.93 544.2v1.8M108.24 544.2v1.8M112 544.2v1.8M114.92 544.2v1.8M117.31 544.2v1.8M119.33 544.2v1.8M121.08 544.2v1.8M122.62 544.2v1.8M133.08 544.2v1.8M138.39 544.2v1.8M142.15 544.2v1.8M145.07 544.2v1.8M147.46 544.2v1.8M149.48 544.2v1.8M151.23 544.2v1.8M152.77 544.2v1.8" stroke="#7c7c7c" stroke-width="1.05" fill="none"/>
<text transform="translate(21.9 547.5) scale(1 1.12)" text-anchor="end" class="tk">0</text>
<text transform="translate(21.9 514.6) scale(1 1.12)" text-anchor="end" class="tk">50</text>
<text transform="translate(21.9 481.7) scale(1 1.12)" text-anchor="end" class="tk">100</text>
<text transform="translate(33.55 556.1) scale(1 1.12)" text-anchor="middle" class="tk">0</text>
<text transform="translate(63.7 556.1) scale(1 1.12)" text-anchor="middle" class="tk">1</text>
<text transform="translate(93.85 556.1) scale(1 1.12)" text-anchor="middle" class="tk">2</text>
<text transform="translate(124 556.1) scale(1 1.12)" text-anchor="middle" class="tk">3</text>
<text transform="translate(154.15 556.1) scale(1 1.12)" text-anchor="middle" class="tk">4</text>
<text x="90.12" y="566.9" text-anchor="middle" class="al" style="font-size:8.5px">log<tspan font-size="5.2" dy="2.2">10</tspan><tspan dy="-2.2">[inhibitor] (nmol/L)</tspan></text>
<text transform="translate(7.5 501.43) scale(1 1.1) rotate(-90)" text-anchor="middle" class="al" style="font-size:8.4px">% RLU</text>
<text x="90.12" y="454.56" text-anchor="middle" class="ti">NB-EBc1 (WT)</text>
<text x="0.5" y="459.26" class="lt">J</text>
<clipPath id="cJ"><rect x="26.1" y="438.66" width="128.85" height="105.54"/></clipPath>
<g clip-path="url(#cJ)"><path d="M26.1 475.67 27.6 475.68 29.1 475.68 30.6 475.68 32.1 475.68 33.6 475.68 35.1 475.68 36.6 475.69 38.1 475.69 39.6 475.69 41.1 475.7 42.6 475.7 44.1 475.71 45.6 475.71 47.1 475.72 48.6 475.72 50.1 475.73 51.6 475.74 53.1 475.75 54.6 475.76 56.1 475.77 57.6 475.78 59.1 475.8 60.6 475.82 62.1 475.84 63.6 475.86 65.1 475.88 66.6 475.91 68.1 475.94 69.6 475.98 71.1 476.02 72.6 476.06 74.1 476.11 75.6 476.17 77.1 476.23 78.6 476.31 80.1 476.39 81.6 476.48 83.1 476.58 84.6 476.7 86.1 476.83 87.6 476.98 89.1 477.14 90.6 477.33 92.1 477.54 93.6 477.77 95.1 478.04 96.6 478.33 98.1 478.66 99.6 479.03 101.1 479.45 102.6 479.91 104.1 480.42 105.6 481 107.1 481.63 108.6 482.34 110.1 483.13 111.6 484 113.1 484.95 114.6 486 116.1 487.16 117.6 488.42 119.1 489.79 120.6 491.29 122.1 492.9 123.6 494.63 125.1 496.49 126.6 498.47 128.1 500.57 129.6 502.79 131.1 505.1 132.6 507.52 134.1 510.01 135.6 512.57 137.1 515.18 138.6 517.83 140.1 520.48 141.6 523.14 143.1 525.76 144.6 528.35 146.1 530.87 147.6 533.32 149.1 535.67 150.6 537.93 152.1 540.08 153.6 542.11 155.1 544.02" class="bl"/><path d="M26.1 476.1 27.6 476.1 29.1 476.1 30.6 476.1 32.1 476.1 33.6 476.11 35.1 476.11 36.6 476.11 38.1 476.12 39.6 476.12 41.1 476.12 42.6 476.13 44.1 476.14 45.6 476.14 47.1 476.15 48.6 476.16 50.1 476.17 51.6 476.18 53.1 476.19 54.6 476.2 56.1 476.22 57.6 476.23 59.1 476.25 60.6 476.27 62.1 476.3 63.6 476.32 65.1 476.35 66.6 476.39 68.1 476.42 69.6 476.47 71.1 476.52 72.6 476.57 74.1 476.63 75.6 476.7 77.1 476.78 78.6 476.87 80.1 476.97 81.6 477.08 83.1 477.2 84.6 477.34 86.1 477.5 87.6 477.68 89.1 477.88 90.6 478.1 92.1 478.35 93.6 478.63 95.1 478.94 96.6 479.29 98.1 479.69 99.6 480.13 101.1 480.62 102.6 481.16 104.1 481.77 105.6 482.44 107.1 483.19 108.6 484.01 110.1 484.93 111.6 485.93 113.1 487.03 114.6 488.24 116.1 489.56 117.6 490.99 119.1 492.54 120.6 494.22 122.1 496.02 123.6 497.94 125.1 499.99 126.6 502.16 128.1 504.43 129.6 506.81 131.1 509.28 132.6 511.83 134.1 514.45 135.6 517.11 137.1 519.79 138.6 522.49 140.1 525.18 141.6 527.83 143.1 530.44 144.6 532.98 146.1 535.45 147.6 537.82 149.1 540.08 150.6 542.24 152.1 544.27 153.6 546.19 155.1 547.97" class="bl"/><path d="M26.1 477.59 27.6 477.59 29.1 477.59 30.6 477.59 32.1 477.59 33.6 477.59 35.1 477.59 36.6 477.59 38.1 477.59 39.6 477.59 41.1 477.59 42.6 477.59 44.1 477.59 45.6 477.59 47.1 477.59 48.6 477.59 50.1 477.59 51.6 477.59 53.1 477.59 54.6 477.59 56.1 477.59 57.6 477.59 59.1 477.59 60.6 477.6 62.1 477.6 63.6 477.6 65.1 477.6 66.6 477.6 68.1 477.6 69.6 477.61 71.1 477.61 72.6 477.61 74.1 477.62 75.6 477.62 77.1 477.63 78.6 477.63 80.1 477.64 81.6 477.64 83.1 477.65 84.6 477.66 86.1 477.67 87.6 477.68 89.1 477.7 90.6 477.71 92.1 477.73 93.6 477.75 95.1 477.77 96.6 477.79 98.1 477.82 99.6 477.85 101.1 477.89 102.6 477.93 104.1 477.98 105.6 478.03 107.1 478.09 108.6 478.16 110.1 478.24 111.6 478.32 113.1 478.42 114.6 478.53 116.1 478.65 117.6 478.79 119.1 478.95 120.6 479.12 122.1 479.32 123.6 479.54 125.1 479.79 126.6 480.06 128.1 480.36 129.6 480.7 131.1 481.07 132.6 481.47 134.1 481.92 135.6 482.4 137.1 482.93 138.6 483.5 140.1 484.11 141.6 484.76 143.1 485.45 144.6 486.18 146.1 486.95 147.6 487.74 149.1 488.56 150.6 489.4 152.1 490.25 153.6 491.11 155.1 491.97" class="rl"/><path d="M26.1 478.37 27.6 478.37 29.1 478.37 30.6 478.37 32.1 478.37 33.6 478.37 35.1 478.37 36.6 478.37 38.1 478.37 39.6 478.37 41.1 478.37 42.6 478.37 44.1 478.37 45.6 478.37 47.1 478.37 48.6 478.38 50.1 478.38 51.6 478.38 53.1 478.38 54.6 478.38 56.1 478.38 57.6 478.38 59.1 478.39 60.6 478.39 62.1 478.39 63.6 478.39 65.1 478.4 66.6 478.4 68.1 478.4 69.6 478.41 71.1 478.41 72.6 478.42 74.1 478.43 75.6 478.44 77.1 478.45 78.6 478.46 80.1 478.47 81.6 478.48 83.1 478.5 84.6 478.51 86.1 478.53 87.6 478.55 89.1 478.58 90.6 478.61 92.1 478.64 93.6 478.68 95.1 478.72 96.6 478.76 98.1 478.82 99.6 478.88 101.1 478.94 102.6 479.02 104.1 479.11 105.6 479.2 107.1 479.31 108.6 479.44 110.1 479.57 111.6 479.73 113.1 479.9 114.6 480.1 116.1 480.31 117.6 480.55 119.1 480.82 120.6 481.12 122.1 481.45 123.6 481.81 125.1 482.2 126.6 482.63 128.1 483.1 129.6 483.61 131.1 484.16 132.6 484.74 134.1 485.37 135.6 486.03 137.1 486.72 138.6 487.44 140.1 488.19 141.6 488.96 143.1 489.74 144.6 490.53 146.1 491.33 147.6 492.12 149.1 492.9 150.6 493.67 152.1 494.41 153.6 495.13 155.1 495.82" class="rl"/><path d="M26.1 478.96 27.6 478.96 29.1 478.96 30.6 478.96 32.1 478.96 33.6 478.96 35.1 478.96 36.6 478.96 38.1 478.96 39.6 478.97 41.1 478.97 42.6 478.97 44.1 478.97 45.6 478.97 47.1 478.97 48.6 478.97 50.1 478.98 51.6 478.98 53.1 478.98 54.6 478.98 56.1 478.99 57.6 478.99 59.1 478.99 60.6 479 62.1 479 63.6 479.01 65.1 479.01 66.6 479.02 68.1 479.03 69.6 479.04 71.1 479.05 72.6 479.06 74.1 479.07 75.6 479.09 77.1 479.1 78.6 479.12 80.1 479.14 81.6 479.16 83.1 479.19 84.6 479.22 86.1 479.25 87.6 479.29 89.1 479.33 90.6 479.38 92.1 479.43 93.6 479.49 95.1 479.56 96.6 479.63 98.1 479.71 99.6 479.81 101.1 479.91 102.6 480.03 104.1 480.16 105.6 480.31 107.1 480.47 108.6 480.66 110.1 480.86 111.6 481.09 113.1 481.34 114.6 481.62 116.1 481.92 117.6 482.27 119.1 482.64 120.6 483.05 122.1 483.5 123.6 484 125.1 484.53 126.6 485.11 128.1 485.74 129.6 486.41 131.1 487.13 132.6 487.9 134.1 488.71 135.6 489.57 137.1 490.46 138.6 491.39 140.1 492.35 141.6 493.34 143.1 494.35 144.6 495.36 146.1 496.39 147.6 497.41 149.1 498.42 150.6 499.41 152.1 500.38 153.6 501.33 155.1 502.24" class="rl"/></g>
<path d="M31.07 477.54L33.57 473.24L36.07 477.54Z" fill="#222c74"/><path d="M46.22 482.27L48.72 477.97L51.22 482.27Z" fill="#222c74"/><path d="M61.22 477.54L63.72 473.24L66.22 477.54Z" fill="#222c74"/><path d="M76.38 479.91L78.88 475.61L81.38 479.91Z" fill="#222c74"/><path d="M91.38 479.91L93.88 475.61L96.38 479.91Z" fill="#222c74"/><path d="M91.43 479.91L93.93 475.61L96.43 479.91Z" fill="#222c74"/><path d="M106.59 483.06L109.09 478.76L111.59 483.06Z" fill="#222c74"/><path d="M106.59 487.01L109.09 482.71L111.59 487.01Z" fill="#222c74"/><path d="M121.75 487.8L124.25 483.5L126.75 487.8Z" fill="#222c74"/><path d="M139.25 523.11V527.05M137.95 523.11h2.6M137.95 527.05h2.6" class="be"/><path d="M136.75 528.06L139.25 523.76L141.75 528.06Z" fill="#222c74"/><path d="M136.75 531.22L139.25 526.92L141.75 531.22Z" fill="#222c74"/><path d="M136.75 536.75L139.25 532.45L141.75 536.75Z" fill="#222c74"/><rect x="31.47" y="468.8" width="4.2" height="4.4" fill="#e3191f"/><rect x="31.47" y="472.75" width="4.2" height="4.4" fill="#e3191f"/><rect x="46.62" y="475.91" width="4.2" height="4.4" fill="#e3191f"/><rect x="61.62" y="471.17" width="4.2" height="4.4" fill="#e3191f"/><rect x="61.62" y="474.33" width="4.2" height="4.4" fill="#e3191f"/><rect x="76.78" y="476.69" width="4.2" height="4.4" fill="#e3191f"/><rect x="76.78" y="479.85" width="4.2" height="4.4" fill="#e3191f"/><rect x="91.78" y="473.54" width="4.2" height="4.4" fill="#e3191f"/><rect x="91.78" y="477.48" width="4.2" height="4.4" fill="#e3191f"/><rect x="91.83" y="471.96" width="4.2" height="4.4" fill="#e3191f"/><rect x="91.83" y="479.06" width="4.2" height="4.4" fill="#e3191f"/><rect x="106.99" y="477.48" width="4.2" height="4.4" fill="#e3191f"/><rect x="106.99" y="483.8" width="4.2" height="4.4" fill="#e3191f"/><rect x="122.15" y="475.91" width="4.2" height="4.4" fill="#e3191f"/><rect x="122.15" y="483.01" width="4.2" height="4.4" fill="#e3191f"/><rect x="137.15" y="479.85" width="4.2" height="4.4" fill="#e3191f"/><rect x="137.15" y="487.75" width="4.2" height="4.4" fill="#e3191f"/>
<path d="M207.1 458.66V544.2H335.15M207.1 544.2h-3.4M207.1 527.75h-2M207.1 511.3h-3.4M207.1 494.85h-2M207.1 478.4h-3.4M207.1 461.95h-2M214.55 544.2v3.2M244.7 544.2v3.2M274.85 544.2v3.2M305 544.2v3.2M335.15 544.2v3.2M207.86 544.2v1.8M209.88 544.2v1.8M211.63 544.2v1.8M213.17 544.2v1.8M223.63 544.2v1.8M228.94 544.2v1.8M232.7 544.2v1.8M235.62 544.2v1.8M238.01 544.2v1.8M240.03 544.2v1.8M241.78 544.2v1.8M243.32 544.2v1.8M253.78 544.2v1.8M259.09 544.2v1.8M262.85 544.2v1.8M265.77 544.2v1.8M268.16 544.2v1.8M270.18 544.2v1.8M271.93 544.2v1.8M273.47 544.2v1.8M283.93 544.2v1.8M289.24 544.2v1.8M293 544.2v1.8M295.92 544.2v1.8M298.31 544.2v1.8M300.33 544.2v1.8M302.08 544.2v1.8M303.62 544.2v1.8M314.08 544.2v1.8M319.39 544.2v1.8M323.15 544.2v1.8M326.07 544.2v1.8M328.46 544.2v1.8M330.48 544.2v1.8M332.23 544.2v1.8M333.77 544.2v1.8" stroke="#7c7c7c" stroke-width="1.05" fill="none"/>
<text transform="translate(202.9 547.5) scale(1 1.12)" text-anchor="end" class="tk">0</text>
<text transform="translate(202.9 514.6) scale(1 1.12)" text-anchor="end" class="tk">50</text>
<text transform="translate(202.9 481.7) scale(1 1.12)" text-anchor="end" class="tk">100</text>
<text transform="translate(214.55 556.1) scale(1 1.12)" text-anchor="middle" class="tk">0</text>
<text transform="translate(244.7 556.1) scale(1 1.12)" text-anchor="middle" class="tk">1</text>
<text transform="translate(274.85 556.1) scale(1 1.12)" text-anchor="middle" class="tk">2</text>
<text transform="translate(305 556.1) scale(1 1.12)" text-anchor="middle" class="tk">3</text>
<text transform="translate(335.15 556.1) scale(1 1.12)" text-anchor="middle" class="tk">4</text>
<text x="271.12" y="566.9" text-anchor="middle" class="al" style="font-size:8.5px">log<tspan font-size="5.2" dy="2.2">10</tspan><tspan dy="-2.2">[inhibitor] (nmol/L)</tspan></text>
<text transform="translate(188.5 501.43) scale(1 1.1) rotate(-90)" text-anchor="middle" class="al" style="font-size:8.4px">% RLU</text>
<text x="271.12" y="454.56" text-anchor="middle" class="ti">SK-N-BE(2)C (WT)</text>
<text x="181.5" y="459.26" class="lt">K</text>
<clipPath id="cK"><rect x="207.1" y="438.66" width="128.85" height="105.54"/></clipPath>
<g clip-path="url(#cK)"><path d="M207.1 475.61 208.6 475.61 210.1 475.62 211.6 475.62 213.1 475.62 214.6 475.62 216.1 475.62 217.6 475.63 219.1 475.63 220.6 475.63 222.1 475.64 223.6 475.64 225.1 475.65 226.6 475.65 228.1 475.66 229.6 475.67 231.1 475.67 232.6 475.68 234.1 475.69 235.6 475.7 237.1 475.71 238.6 475.73 240.1 475.74 241.6 475.76 243.1 475.78 244.6 475.8 246.1 475.82 247.6 475.85 249.1 475.88 250.6 475.91 252.1 475.95 253.6 475.99 255.1 476.04 256.6 476.09 258.1 476.15 259.6 476.22 261.1 476.29 262.6 476.37 264.1 476.46 265.6 476.57 267.1 476.68 268.6 476.81 270.1 476.95 271.6 477.11 273.1 477.29 274.6 477.48 276.1 477.71 277.6 477.95 279.1 478.23 280.6 478.53 282.1 478.87 283.6 479.25 285.1 479.67 286.6 480.14 288.1 480.66 289.6 481.24 291.1 481.87 292.6 482.58 294.1 483.36 295.6 484.21 297.1 485.16 298.6 486.2 300.1 487.34 301.6 488.59 303.1 489.95 304.6 491.44 306.1 493.05 307.6 494.8 309.1 496.68 310.6 498.71 312.1 500.88 313.6 503.2 315.1 505.66 316.6 508.26 318.1 511 319.6 513.86 321.1 516.84 322.6 519.93 324.1 523.11 325.6 526.35 327.1 529.65 328.6 532.99 330.1 536.34 331.6 539.67 333.1 542.98 334.6 546.24 336.1 549.43" class="bl"/><path d="M207.1 478.25 208.6 478.25 210.1 478.25 211.6 478.25 213.1 478.25 214.6 478.25 216.1 478.25 217.6 478.25 219.1 478.25 220.6 478.25 222.1 478.25 223.6 478.25 225.1 478.25 226.6 478.25 228.1 478.25 229.6 478.25 231.1 478.25 232.6 478.25 234.1 478.26 235.6 478.26 237.1 478.26 238.6 478.26 240.1 478.26 241.6 478.26 243.1 478.27 244.6 478.27 246.1 478.27 247.6 478.27 249.1 478.28 250.6 478.28 252.1 478.29 253.6 478.29 255.1 478.3 256.6 478.3 258.1 478.31 259.6 478.32 261.1 478.33 262.6 478.34 264.1 478.35 265.6 478.37 267.1 478.39 268.6 478.4 270.1 478.42 271.6 478.45 273.1 478.48 274.6 478.51 276.1 478.54 277.6 478.58 279.1 478.62 280.6 478.67 282.1 478.73 283.6 478.79 285.1 478.87 286.6 478.95 288.1 479.04 289.6 479.15 291.1 479.27 292.6 479.4 294.1 479.55 295.6 479.73 297.1 479.92 298.6 480.15 300.1 480.4 301.6 480.68 303.1 481.01 304.6 481.37 306.1 481.79 307.6 482.26 309.1 482.79 310.6 483.39 312.1 484.07 313.6 484.84 315.1 485.72 316.6 486.71 318.1 487.83 319.6 489.1 321.1 490.54 322.6 492.17 324.1 494.02 325.6 496.11 327.1 498.48 328.6 501.16 330.1 504.2 331.6 507.64 333.1 511.53 334.6 515.95 336.1 520.94" class="rl"/><path d="M207.1 483.81 208.6 483.81 210.1 483.81 211.6 483.81 213.1 483.81 214.6 483.81 216.1 483.81 217.6 483.81 219.1 483.81 220.6 483.81 222.1 483.81 223.6 483.81 225.1 483.81 226.6 483.81 228.1 483.81 229.6 483.81 231.1 483.81 232.6 483.81 234.1 483.81 235.6 483.81 237.1 483.81 238.6 483.81 240.1 483.81 241.6 483.81 243.1 483.81 244.6 483.82 246.1 483.82 247.6 483.82 249.1 483.82 250.6 483.82 252.1 483.82 253.6 483.82 255.1 483.82 256.6 483.83 258.1 483.83 259.6 483.83 261.1 483.83 262.6 483.84 264.1 483.84 265.6 483.85 267.1 483.85 268.6 483.86 270.1 483.87 271.6 483.88 273.1 483.89 274.6 483.9 276.1 483.91 277.6 483.93 279.1 483.95 280.6 483.97 282.1 484 283.6 484.03 285.1 484.07 286.6 484.11 288.1 484.16 289.6 484.21 291.1 484.28 292.6 484.36 294.1 484.44 295.6 484.55 297.1 484.67 298.6 484.81 300.1 484.97 301.6 485.16 303.1 485.38 304.6 485.63 306.1 485.93 307.6 486.28 309.1 486.68 310.6 487.14 312.1 487.69 313.6 488.32 315.1 489.05 316.6 489.9 318.1 490.9 319.6 492.05 321.1 493.39 322.6 494.95 324.1 496.77 325.6 498.88 327.1 501.33 328.6 504.19 330.1 507.51 331.6 511.37 333.1 515.85 334.6 521.07 336.1 527.14" class="rl"/></g>
<path d="M212.07 476.75L214.57 472.45L217.07 476.75Z" fill="#222c74"/><path d="M227.22 478.33L229.72 474.03L232.22 478.33Z" fill="#222c74"/><path d="M242.22 478.33L244.72 474.03L247.22 478.33Z" fill="#222c74"/><path d="M257.38 479.91L259.88 475.61L262.38 479.91Z" fill="#222c74"/><path d="M272.38 477.54L274.88 473.24L277.38 477.54Z" fill="#222c74"/><path d="M272.43 478.33L274.93 474.03L277.43 478.33Z" fill="#222c74"/><path d="M287.59 481.48L290.09 477.18L292.59 481.48Z" fill="#222c74"/><path d="M287.59 483.85L290.09 479.55L292.59 483.85Z" fill="#222c74"/><path d="M302.75 474.38L305.25 470.08L307.75 474.38Z" fill="#222c74"/><path d="M302.75 475.96L305.25 471.66L307.75 475.96Z" fill="#222c74"/><path d="M302.75 495.69L305.25 491.39L307.75 495.69Z" fill="#222c74"/><path d="M317.75 535.17L320.25 530.87L322.75 535.17Z" fill="#222c74"/><path d="M317.75 538.33L320.25 534.03L322.75 538.33Z" fill="#222c74"/><rect x="212.47" y="474.33" width="4.2" height="4.4" fill="#e3191f"/><rect x="227.62" y="478.27" width="4.2" height="4.4" fill="#e3191f"/><rect x="242.62" y="476.69" width="4.2" height="4.4" fill="#e3191f"/><rect x="257.78" y="482.22" width="4.2" height="4.4" fill="#e3191f"/><rect x="257.78" y="484.59" width="4.2" height="4.4" fill="#e3191f"/><rect x="272.78" y="487.75" width="4.2" height="4.4" fill="#e3191f"/><rect x="272.83" y="479.06" width="4.2" height="4.4" fill="#e3191f"/><rect x="272.83" y="487.75" width="4.2" height="4.4" fill="#e3191f"/><rect x="287.99" y="480.64" width="4.2" height="4.4" fill="#e3191f"/><rect x="287.99" y="490.12" width="4.2" height="4.4" fill="#e3191f"/><rect x="303.15" y="478.27" width="4.2" height="4.4" fill="#e3191f"/><rect x="303.15" y="479.85" width="4.2" height="4.4" fill="#e3191f"/><rect x="318.15" y="488.54" width="4.2" height="4.4" fill="#e3191f"/><rect x="318.15" y="491.69" width="4.2" height="4.4" fill="#e3191f"/>

<path d="M377.7 496.2H397" stroke="#222c74" stroke-width="1.3"/>
<path d="M383.5 500.4L387.5 492.4L391.5 500.4Z" fill="#222c74"/>
<text x="400" y="499.4" class="lg" fill="#34407e" stroke="#34407e" stroke-width="0.1">Crizotinib</text>
<path d="M377.7 518.6H397" stroke="#e3191f" stroke-width="1.2"/>
<rect x="383.5" y="514.6" width="8" height="8" fill="#e3191f"/>
<text x="400" y="522" class="lg" fill="#c92d2d" stroke="#c92d2d" stroke-width="0.1">PF-06463922</text>

</svg>
</body></html>
